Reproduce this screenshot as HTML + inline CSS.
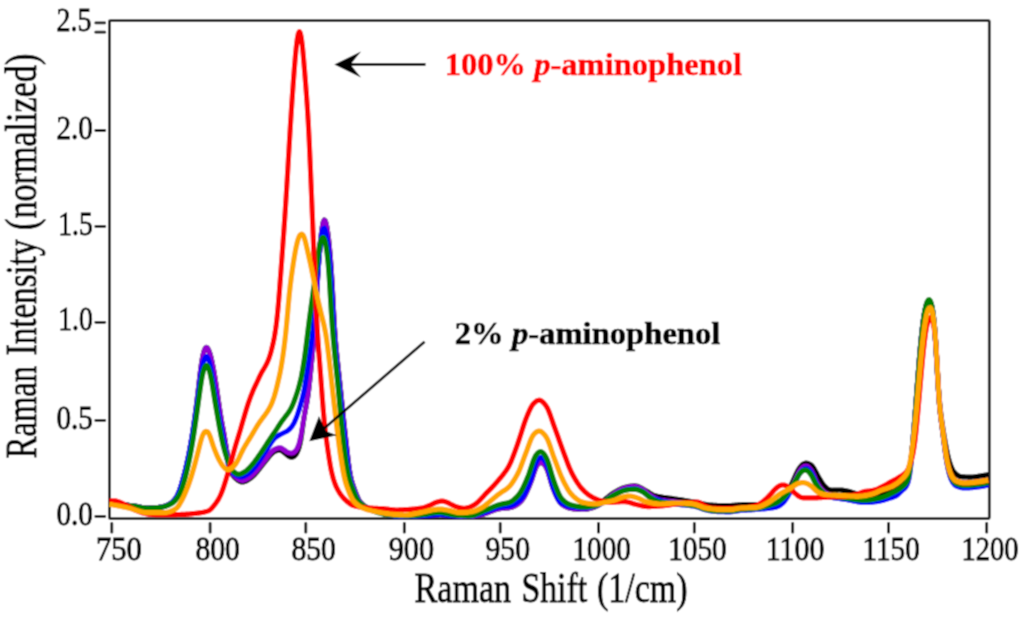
<!DOCTYPE html>
<html><head><meta charset="utf-8"><title>Raman spectra</title>
<style>
html,body{margin:0;padding:0;background:#fff;}
body{width:1024px;height:617px;overflow:hidden;}
svg{display:block;}
text{font-family:"Liberation Serif","Times New Roman",serif;fill:#000;stroke:#000;stroke-width:0.9px;}

.ax line{stroke:#0a0a0a;stroke-width:2.8;stroke-linecap:round;}
.cv path{fill:none;stroke-linejoin:round;stroke-linecap:butt;}
.lab{font-weight:bold;font-size:32.6px;stroke-width:0.6px;}
</style></head><body>
<svg width="1024" height="617" viewBox="0 0 1024 617">
<defs><filter id="soft" x="0" y="0" width="1024" height="617" filterUnits="userSpaceOnUse"><feConvolveMatrix order="3" kernelMatrix="0.0400 0.1200 0.0400 0.1200 0.3600 0.1200 0.0400 0.1200 0.0400" edgeMode="duplicate" preserveAlpha="true"/></filter></defs>
<rect width="1024" height="617" fill="#fff"/>
<g filter="url(#soft)">
<rect width="1024" height="617" fill="#fff"/>
<rect x="109.4" y="20.6" width="879.9" height="498.0" fill="none" stroke="#1a1a1a" stroke-width="2.8" rx="1"/>
<g class="cv">
<path d="M109.3,503.5 110.3,503.6 111.3,503.7 112.3,503.8 113.3,503.9 114.3,504.0 115.3,504.0 116.3,504.1 117.3,504.2 118.3,504.3 119.3,504.4 120.3,504.5 121.3,504.6 122.3,504.7 123.3,504.8 124.3,504.9 125.3,505.0 126.3,505.1 127.3,505.2 128.3,505.3 129.3,505.5 130.3,505.6 131.3,505.7 132.3,505.8 133.3,505.9 134.3,506.1 135.3,506.2 136.3,506.4 137.3,506.6 138.3,506.8 139.3,507.0 140.3,507.2 141.3,507.4 142.3,507.5 143.3,507.7 144.3,507.8 145.3,507.9 146.3,508.0 147.3,508.0 148.3,508.0 149.3,508.0 150.3,507.9 151.3,507.9 152.3,507.9 153.3,507.8 154.3,507.8 155.3,507.7 156.3,507.6 157.3,507.5 158.3,507.5 159.3,507.3 160.3,507.2 161.3,507.0 162.3,506.8 163.3,506.5 164.3,506.2 165.3,505.9 166.3,505.5 167.3,505.1 168.3,504.6 169.3,504.1 170.3,503.5 171.3,502.9 172.3,502.1 173.3,501.1 174.3,500.0 175.3,498.7 176.3,497.2 177.3,495.5 178.3,493.5 179.3,491.1 180.3,488.2 181.3,484.9 182.3,481.5 183.3,477.9 184.3,474.2 185.3,470.3 186.3,466.1 187.3,461.7 188.3,457.0 189.3,451.9 190.3,446.6 191.3,440.9 192.3,434.9 193.3,428.5 194.3,421.7 195.3,414.4 196.3,406.6 197.3,398.4 198.3,389.8 199.3,381.0 200.3,372.5 201.3,365.0 202.3,358.8 203.3,354.0 204.3,350.5 205.3,348.3 206.3,347.4 207.3,347.9 208.3,349.4 209.3,351.8 210.3,354.9 211.3,358.7 212.3,363.2 213.3,368.4 214.3,374.0 215.3,380.2 216.3,386.7 217.3,393.4 218.3,400.3 219.3,407.2 220.3,413.7 221.3,419.8 222.3,425.3 223.3,430.6 224.3,436.1 225.3,442.2 226.3,448.5 227.3,454.9 228.3,460.8 229.3,465.9 230.3,469.7 231.3,472.3 232.3,474.3 233.3,475.8 234.3,477.1 235.3,478.1 236.3,479.0 237.3,479.8 238.3,480.5 239.3,481.1 240.3,481.6 241.3,481.9 242.3,482.0 243.3,481.9 244.3,481.7 245.3,481.3 246.3,480.8 247.3,480.3 248.3,479.7 249.3,479.1 250.3,478.4 251.3,477.6 252.3,476.8 253.3,475.9 254.3,474.9 255.3,473.8 256.3,472.7 257.3,471.5 258.3,470.2 259.3,469.0 260.3,467.7 261.3,466.4 262.3,465.1 263.3,463.9 264.3,462.7 265.3,461.4 266.3,460.2 267.3,458.9 268.3,457.6 269.3,456.4 270.3,455.2 271.3,454.2 272.3,453.2 273.3,452.4 274.3,451.7 275.3,451.2 276.3,450.7 277.3,450.4 278.3,450.2 279.3,450.1 280.3,450.3 281.3,450.6 282.3,451.2 283.3,451.9 284.3,452.7 285.3,453.5 286.3,454.4 287.3,455.2 288.3,456.0 289.3,456.6 290.3,457.0 291.3,457.2 292.3,457.2 293.3,456.8 294.3,456.2 295.3,455.2 296.3,453.9 297.3,452.1 298.3,449.7 299.3,446.6 300.3,442.5 301.3,436.9 302.3,430.0 303.3,422.7 304.3,416.1 305.3,410.4 306.3,405.2 307.3,399.6 308.3,392.8 309.3,384.5 310.3,375.0 311.3,364.7 312.3,354.4 313.3,343.6 314.3,331.3 315.3,316.4 316.3,299.7 317.3,282.9 318.3,267.5 319.3,254.2 320.3,243.1 321.3,234.0 322.3,226.8 323.3,221.9 324.3,220.0 325.3,220.9 326.3,224.3 327.3,229.8 328.3,237.1 329.3,246.2 330.3,257.3 331.3,270.9 332.3,287.6 333.3,306.6 334.3,324.9 335.3,339.4 336.3,350.6 337.3,360.1 338.3,369.2 339.3,378.4 340.3,387.8 341.3,397.4 342.3,407.2 343.3,416.8 344.3,426.2 345.3,435.3 346.3,444.2 347.3,453.1 348.3,461.7 349.3,469.2 350.3,475.2 351.3,479.6 352.3,483.1 353.3,486.0 354.3,488.8 355.3,491.6 356.3,494.2 357.3,496.7 358.3,498.9 359.3,500.7 360.3,502.1 361.3,503.3 362.3,504.2 363.3,505.1 364.3,505.8 365.3,506.5 366.3,507.1 367.3,507.6 368.3,508.1 369.3,508.6 370.3,509.1 371.3,509.5 372.3,509.9 373.3,510.3 374.3,510.7 375.3,511.0 376.3,511.4 377.3,511.7 378.3,512.0 379.3,512.3 380.3,512.6 381.3,512.9 382.3,513.2 383.3,513.5 384.3,513.8 385.3,514.1 386.3,514.3 387.3,514.6 388.3,514.9 389.3,515.1 390.3,515.3 391.3,515.5 392.3,515.6 393.3,515.7 394.3,515.8 395.3,515.8 396.3,515.8 397.3,515.8 398.3,515.8 399.3,515.8 400.3,515.8 401.3,515.8 402.3,515.8 403.3,515.8 404.3,515.8 405.3,515.8 406.3,515.8 407.3,515.8 408.3,515.8 409.3,515.8 410.3,515.8 411.3,515.8 412.3,515.8 413.3,515.8 414.3,515.8 415.3,515.8 416.3,515.8 417.3,515.8 418.3,515.8 419.3,515.8 420.3,515.8 421.3,515.8 422.3,515.7 423.3,515.7 424.3,515.6 425.3,515.5 426.3,515.5 427.3,515.4 428.3,515.3 429.3,515.2 430.3,515.1 431.3,515.1 432.3,515.0 433.3,514.9 434.3,514.8 435.3,514.7 436.3,514.7 437.3,514.6 438.3,514.6 439.3,514.5 440.3,514.5 441.3,514.5 442.3,514.6 443.3,514.7 444.3,514.7 445.3,514.8 446.3,514.9 447.3,515.0 448.3,515.2 449.3,515.3 450.3,515.4 451.3,515.6 452.3,515.7 453.3,515.8 454.3,515.9 455.3,516.0 456.3,516.1 457.3,516.1 458.3,516.2 459.3,516.2 460.3,516.3 461.3,516.3 462.3,516.3 463.3,516.4 464.3,516.4 465.3,516.4 466.3,516.5 467.3,516.5 468.3,516.5 469.3,516.5 470.3,516.5 471.3,516.4 472.3,516.4 473.3,516.2 474.3,516.1 475.3,515.9 476.3,515.7 477.3,515.5 478.3,515.3 479.3,515.1 480.3,514.8 481.3,514.6 482.3,514.3 483.3,514.1 484.3,513.8 485.3,513.5 486.3,513.2 487.3,512.8 488.3,512.5 489.3,512.1 490.3,511.7 491.3,511.3 492.3,510.9 493.3,510.5 494.3,510.1 495.3,509.8 496.3,509.5 497.3,509.2 498.3,509.0 499.3,508.8 500.3,508.6 501.3,508.5 502.3,508.4 503.3,508.3 504.3,508.2 505.3,508.1 506.3,508.0 507.3,508.0 508.3,507.8 509.3,507.7 510.3,507.5 511.3,507.3 512.3,507.0 513.3,506.6 514.3,506.1 515.3,505.6 516.3,505.0 517.3,504.4 518.3,503.6 519.3,502.8 520.3,501.9 521.3,500.9 522.3,499.7 523.3,498.3 524.3,496.6 525.3,494.7 526.3,492.7 527.3,490.5 528.3,488.2 529.3,485.9 530.3,483.4 531.3,480.8 532.3,477.9 533.3,474.8 534.3,471.7 535.3,469.0 536.3,466.7 537.3,464.9 538.3,463.7 539.3,462.9 540.3,462.4 541.3,462.4 542.3,462.9 543.3,463.6 544.3,464.7 545.3,466.0 546.3,467.7 547.3,469.9 548.3,472.7 549.3,475.9 550.3,479.4 551.3,482.8 552.3,486.0 553.3,488.9 554.3,491.4 555.3,493.7 556.3,495.9 557.3,498.0 558.3,499.8 559.3,501.4 560.3,502.7 561.3,503.8 562.3,504.6 563.3,505.2 564.3,505.8 565.3,506.4 566.3,506.9 567.3,507.3 568.3,507.7 569.3,508.0 570.3,508.3 571.3,508.5 572.3,508.6 573.3,508.8 574.3,508.9 575.3,508.9 576.3,509.0 577.3,509.1 578.3,509.1 579.3,509.2 580.3,509.2 581.3,509.3 582.3,509.3 583.3,509.3 584.3,509.3 585.3,509.2 586.3,509.1 587.3,508.9 588.3,508.8 589.3,508.6 590.3,508.3 591.3,508.0 592.3,507.7 593.3,507.4 594.3,507.0 595.3,506.7 596.3,506.2 597.3,505.7 598.3,505.1 599.3,504.4 600.3,503.5 601.3,502.6 602.3,501.6 603.3,500.8 604.3,500.0 605.3,499.1 606.3,498.3 607.3,497.5 608.3,496.7 609.3,495.9 610.3,495.2 611.3,494.4 612.3,493.7 613.3,493.1 614.3,492.4 615.3,491.8 616.3,491.3 617.3,490.7 618.3,490.2 619.3,489.6 620.3,489.1 621.3,488.6 622.3,488.2 623.3,487.8 624.3,487.5 625.3,487.2 626.3,487.0 627.3,486.8 628.3,486.6 629.3,486.4 630.3,486.2 631.3,486.1 632.3,486.0 633.3,485.9 634.3,485.9 635.3,485.9 636.3,486.0 637.3,486.2 638.3,486.5 639.3,487.0 640.3,487.5 641.3,488.0 642.3,488.6 643.3,489.2 644.3,489.8 645.3,490.3 646.3,490.9 647.3,491.5 648.3,492.1 649.3,492.8 650.3,493.4 651.3,494.0 652.3,494.6 653.3,495.1 654.3,495.5 655.3,495.9 656.3,496.1 657.3,496.4 658.3,496.6 659.3,496.8 660.3,496.9 661.3,497.1 662.3,497.2 663.3,497.4 664.3,497.5 665.3,497.6 666.3,497.8 667.3,497.9 668.3,498.0 669.3,498.2 670.3,498.3 671.3,498.4 672.3,498.6 673.3,498.7 674.3,498.9 675.3,499.0 676.3,499.2 677.3,499.3 678.3,499.5 679.3,499.6 680.3,499.8 681.3,499.9 682.3,500.1 683.3,500.2 684.3,500.4 685.3,500.5 686.3,500.7 687.3,500.9 688.3,501.0 689.3,501.2 690.3,501.4 691.3,501.5 692.3,501.7 693.3,501.9 694.3,502.0 695.3,502.2 696.3,502.4 697.3,502.6 698.3,502.8 699.3,503.0 700.3,503.2 701.3,503.4 702.3,503.7 703.3,503.9 704.3,504.2 705.3,504.4 706.3,504.6 707.3,504.8 708.3,504.9 709.3,505.0 710.3,505.1 711.3,505.2 712.3,505.2 713.3,505.3 714.3,505.3 715.3,505.4 716.3,505.4 717.3,505.5 718.3,505.5 719.3,505.5 720.3,505.5 721.3,505.5 722.3,505.5 723.3,505.5 724.3,505.5 725.3,505.5 726.3,505.5 727.3,505.5 728.3,505.5 729.3,505.5 730.3,505.5 731.3,505.5 732.3,505.4 733.3,505.4 734.3,505.3 735.3,505.2 736.3,505.1 737.3,505.0 738.3,504.9 739.3,504.8 740.3,504.8 741.3,504.8 742.3,504.7 743.3,504.7 744.3,504.7 745.3,504.6 746.3,504.6 747.3,504.6 748.3,504.6 749.3,504.6 750.3,504.5 751.3,504.5 752.3,504.5 753.3,504.5 754.3,504.5 755.3,504.5 756.3,504.5 757.3,504.5 758.3,504.6 759.3,504.6 760.3,504.7 761.3,504.7 762.3,504.8 763.3,504.8 764.3,504.9 765.3,504.9 766.3,505.0 767.3,505.0 768.3,505.0 769.3,505.0 770.3,505.0 771.3,504.9 772.3,504.9 773.3,504.8 774.3,504.7 775.3,504.7 776.3,504.5 777.3,504.3 778.3,503.9 779.3,503.3 780.3,502.4 781.3,501.4 782.3,500.2 783.3,499.0 784.3,497.6 785.3,496.2 786.3,494.7 787.3,492.9 788.3,491.0 789.3,489.0 790.3,486.8 791.3,484.7 792.3,482.5 793.3,480.3 794.3,478.1 795.3,475.9 796.3,473.7 797.3,471.7 798.3,469.8 799.3,468.2 800.3,466.8 801.3,465.6 802.3,464.7 803.3,464.0 804.3,463.5 805.3,463.2 806.3,463.2 807.3,463.3 808.3,463.6 809.3,464.0 810.3,464.5 811.3,465.2 812.3,466.2 813.3,467.5 814.3,469.1 815.3,470.9 816.3,472.8 817.3,474.7 818.3,476.5 819.3,478.2 820.3,480.0 821.3,481.6 822.3,483.2 823.3,484.6 824.3,485.8 825.3,486.8 826.3,487.8 827.3,488.6 828.3,489.3 829.3,489.8 830.3,490.1 831.3,490.2 832.3,490.3 833.3,490.2 834.3,490.2 835.3,490.1 836.3,490.1 837.3,490.1 838.3,490.0 839.3,490.0 840.3,490.0 841.3,490.1 842.3,490.2 843.3,490.3 844.3,490.5 845.3,490.7 846.3,490.9 847.3,491.1 848.3,491.3 849.3,491.6 850.3,491.9 851.3,492.1 852.3,492.5 853.3,492.8 854.3,493.1 855.3,493.5 856.3,493.8 857.3,494.1 858.3,494.4 859.3,494.7 860.3,494.9 861.3,495.2 862.3,495.5 863.3,495.7 864.3,495.8 865.3,495.9 866.3,496.0 867.3,496.0 868.3,495.9 869.3,495.9 870.3,495.8 871.3,495.7 872.3,495.6 873.3,495.5 874.3,495.4 875.3,495.2 876.3,495.1 877.3,494.9 878.3,494.8 879.3,494.6 880.3,494.4 881.3,494.2 882.3,493.9 883.3,493.7 884.3,493.3 885.3,492.9 886.3,492.6 887.3,492.1 888.3,491.7 889.3,491.2 890.3,490.8 891.3,490.3 892.3,489.9 893.3,489.4 894.3,488.9 895.3,488.4 896.3,487.8 897.3,487.3 898.3,486.6 899.3,486.0 900.3,485.3 901.3,484.5 902.3,483.7 903.3,482.9 904.3,481.9 905.3,480.9 906.3,479.5 907.3,477.7 908.3,475.1 909.3,470.9 910.3,464.9 911.3,457.2 912.3,448.0 913.3,437.2 914.3,425.2 915.3,412.4 916.3,399.3 917.3,386.0 918.3,373.0 919.3,360.4 920.3,348.6 921.3,338.0 922.3,328.7 923.3,320.7 924.3,314.2 925.3,309.0 926.3,305.2 927.3,302.7 928.3,301.3 929.3,301.0 930.3,302.1 931.3,304.6 932.3,309.0 933.3,315.5 934.3,324.8 935.3,337.1 936.3,352.4 937.3,369.6 938.3,386.1 939.3,399.6 940.3,409.7 941.3,417.7 942.3,424.6 943.3,431.1 944.3,437.2 945.3,443.0 946.3,448.3 947.3,453.3 948.3,457.6 949.3,461.3 950.3,464.4 951.3,467.0 952.3,469.2 953.3,471.0 954.3,472.3 955.3,473.4 956.3,474.3 957.3,475.1 958.3,475.7 959.3,476.2 960.3,476.5 961.3,476.7 962.3,476.8 963.3,476.9 964.3,476.9 965.3,477.0 966.3,477.0 967.3,477.0 968.3,477.1 969.3,477.1 970.3,477.1 971.3,477.1 972.3,477.0 973.3,477.0 974.3,476.9 975.3,476.8 976.3,476.6 977.3,476.5 978.3,476.3 979.3,476.1 980.3,476.0 981.3,475.8 982.3,475.7 983.3,475.5 984.3,475.3 985.3,475.2 986.3,475.0 987.3,474.8 988.3,474.7" stroke="#000000" stroke-width="5.2"/>
<path d="M109.3,503.5 110.3,503.6 111.3,503.7 112.3,503.8 113.3,503.9 114.3,504.0 115.3,504.0 116.3,504.1 117.3,504.2 118.3,504.3 119.3,504.4 120.3,504.5 121.3,504.6 122.3,504.7 123.3,504.8 124.3,504.9 125.3,505.0 126.3,505.1 127.3,505.2 128.3,505.3 129.3,505.5 130.3,505.6 131.3,505.7 132.3,505.8 133.3,505.9 134.3,506.1 135.3,506.2 136.3,506.4 137.3,506.6 138.3,506.8 139.3,507.0 140.3,507.2 141.3,507.4 142.3,507.5 143.3,507.7 144.3,507.8 145.3,507.9 146.3,508.0 147.3,508.0 148.3,508.0 149.3,508.0 150.3,507.9 151.3,507.9 152.3,507.9 153.3,507.8 154.3,507.8 155.3,507.7 156.3,507.6 157.3,507.5 158.3,507.5 159.3,507.3 160.3,507.2 161.3,507.0 162.3,506.8 163.3,506.5 164.3,506.2 165.3,505.9 166.3,505.5 167.3,505.1 168.3,504.6 169.3,504.1 170.3,503.5 171.3,502.9 172.3,502.1 173.3,501.1 174.3,500.0 175.3,498.7 176.3,497.2 177.3,495.5 178.3,493.5 179.3,491.1 180.3,488.2 181.3,484.9 182.3,481.5 183.3,477.9 184.3,474.2 185.3,470.3 186.3,466.1 187.3,461.7 188.3,457.0 189.3,451.9 190.3,446.6 191.3,440.9 192.3,434.9 193.3,428.5 194.3,421.7 195.3,414.4 196.3,406.6 197.3,398.4 198.3,389.8 199.3,381.0 200.3,372.5 201.3,365.0 202.3,358.8 203.3,354.0 204.3,350.5 205.3,348.3 206.3,347.4 207.3,347.9 208.3,349.4 209.3,351.8 210.3,354.9 211.3,358.7 212.3,363.2 213.3,368.4 214.3,374.0 215.3,380.2 216.3,386.7 217.3,393.4 218.3,400.3 219.3,407.2 220.3,413.7 221.3,419.8 222.3,425.3 223.3,430.6 224.3,436.2 225.3,442.2 226.3,448.5 227.3,454.7 228.3,460.3 229.3,465.0 230.3,468.5 231.3,471.1 232.3,472.9 233.3,474.4 234.3,475.7 235.3,476.7 236.3,477.5 237.3,478.3 238.3,478.9 239.3,479.5 240.3,479.9 241.3,480.2 242.3,480.3 243.3,480.3 244.3,480.0 245.3,479.6 246.3,479.1 247.3,478.6 248.3,478.0 249.3,477.3 250.3,476.6 251.3,475.8 252.3,474.9 253.3,474.0 254.3,473.0 255.3,471.9 256.3,470.8 257.3,469.6 258.3,468.4 259.3,467.1 260.3,465.9 261.3,464.6 262.3,463.3 263.3,462.1 264.3,460.9 265.3,459.6 266.3,458.3 267.3,456.9 268.3,455.6 269.3,454.3 270.3,453.1 271.3,452.0 272.3,451.1 273.3,450.2 274.3,449.6 275.3,449.0 276.3,448.5 277.3,448.2 278.3,447.9 279.3,447.8 280.3,447.8 281.3,448.1 282.3,448.6 283.3,449.3 284.3,450.0 285.3,450.7 286.3,451.4 287.3,452.0 288.3,452.5 289.3,452.8 290.3,453.0 291.3,453.1 292.3,453.0 293.3,452.6 294.3,451.9 295.3,451.0 296.3,449.8 297.3,448.1 298.3,445.8 299.3,442.7 300.3,438.7 301.3,433.7 302.3,427.9 303.3,421.8 304.3,416.1 305.3,410.7 306.3,405.5 307.3,399.7 308.3,392.9 309.3,384.6 310.3,375.0 311.3,364.7 312.3,354.4 313.3,343.6 314.3,331.3 315.3,316.4 316.3,299.7 317.3,282.9 318.3,267.5 319.3,254.2 320.3,243.1 321.3,234.0 322.3,226.8 323.3,221.9 324.3,220.0 325.3,220.9 326.3,224.3 327.3,229.8 328.3,237.1 329.3,246.2 330.3,257.3 331.3,270.9 332.3,287.6 333.3,306.6 334.3,324.9 335.3,339.4 336.3,350.6 337.3,360.1 338.3,369.2 339.3,378.4 340.3,387.8 341.3,397.4 342.3,407.2 343.3,416.8 344.3,426.2 345.3,435.3 346.3,444.2 347.3,453.1 348.3,461.7 349.3,469.2 350.3,475.2 351.3,479.6 352.3,483.1 353.3,486.0 354.3,488.8 355.3,491.6 356.3,494.2 357.3,496.7 358.3,498.9 359.3,500.7 360.3,502.1 361.3,503.3 362.3,504.2 363.3,505.1 364.3,505.8 365.3,506.5 366.3,507.1 367.3,507.6 368.3,508.1 369.3,508.6 370.3,509.1 371.3,509.5 372.3,509.9 373.3,510.3 374.3,510.7 375.3,511.0 376.3,511.4 377.3,511.7 378.3,512.0 379.3,512.3 380.3,512.6 381.3,512.9 382.3,513.2 383.3,513.5 384.3,513.8 385.3,514.1 386.3,514.3 387.3,514.6 388.3,514.9 389.3,515.1 390.3,515.3 391.3,515.5 392.3,515.6 393.3,515.7 394.3,515.8 395.3,515.8 396.3,515.8 397.3,515.8 398.3,515.8 399.3,515.8 400.3,515.8 401.3,515.8 402.3,515.8 403.3,515.8 404.3,515.8 405.3,515.8 406.3,515.8 407.3,515.8 408.3,515.8 409.3,515.8 410.3,515.8 411.3,515.8 412.3,515.8 413.3,515.8 414.3,515.8 415.3,515.8 416.3,515.8 417.3,515.8 418.3,515.8 419.3,515.8 420.3,515.8 421.3,515.8 422.3,515.7 423.3,515.7 424.3,515.6 425.3,515.5 426.3,515.5 427.3,515.4 428.3,515.3 429.3,515.2 430.3,515.1 431.3,515.1 432.3,515.0 433.3,514.9 434.3,514.8 435.3,514.7 436.3,514.7 437.3,514.6 438.3,514.6 439.3,514.5 440.3,514.5 441.3,514.5 442.3,514.6 443.3,514.7 444.3,514.7 445.3,514.8 446.3,514.9 447.3,515.0 448.3,515.2 449.3,515.3 450.3,515.4 451.3,515.6 452.3,515.7 453.3,515.8 454.3,515.9 455.3,516.0 456.3,516.1 457.3,516.1 458.3,516.2 459.3,516.2 460.3,516.3 461.3,516.3 462.3,516.3 463.3,516.4 464.3,516.4 465.3,516.4 466.3,516.5 467.3,516.5 468.3,516.5 469.3,516.5 470.3,516.5 471.3,516.4 472.3,516.4 473.3,516.2 474.3,516.1 475.3,515.9 476.3,515.7 477.3,515.5 478.3,515.3 479.3,515.1 480.3,514.8 481.3,514.6 482.3,514.3 483.3,514.1 484.3,513.8 485.3,513.5 486.3,513.2 487.3,512.8 488.3,512.5 489.3,512.1 490.3,511.7 491.3,511.3 492.3,510.9 493.3,510.5 494.3,510.1 495.3,509.8 496.3,509.5 497.3,509.2 498.3,509.0 499.3,508.8 500.3,508.6 501.3,508.5 502.3,508.4 503.3,508.3 504.3,508.2 505.3,508.1 506.3,508.0 507.3,508.0 508.3,507.8 509.3,507.7 510.3,507.5 511.3,507.3 512.3,507.0 513.3,506.6 514.3,506.1 515.3,505.6 516.3,505.0 517.3,504.4 518.3,503.6 519.3,502.8 520.3,501.9 521.3,500.9 522.3,499.7 523.3,498.3 524.3,496.6 525.3,494.7 526.3,492.7 527.3,490.5 528.3,488.2 529.3,485.9 530.3,483.4 531.3,480.8 532.3,477.9 533.3,474.8 534.3,471.7 535.3,469.0 536.3,466.7 537.3,464.9 538.3,463.7 539.3,462.9 540.3,462.4 541.3,462.4 542.3,462.9 543.3,463.6 544.3,464.7 545.3,466.0 546.3,467.7 547.3,469.9 548.3,472.7 549.3,475.9 550.3,479.4 551.3,482.8 552.3,486.0 553.3,488.9 554.3,491.4 555.3,493.7 556.3,495.9 557.3,498.0 558.3,499.8 559.3,501.4 560.3,502.7 561.3,503.8 562.3,504.6 563.3,505.2 564.3,505.8 565.3,506.4 566.3,506.9 567.3,507.3 568.3,507.7 569.3,508.0 570.3,508.3 571.3,508.5 572.3,508.6 573.3,508.8 574.3,508.9 575.3,508.9 576.3,509.0 577.3,509.1 578.3,509.1 579.3,509.2 580.3,509.2 581.3,509.3 582.3,509.3 583.3,509.3 584.3,509.3 585.3,509.2 586.3,509.1 587.3,508.9 588.3,508.7 589.3,508.5 590.3,508.3 591.3,508.0 592.3,507.7 593.3,507.3 594.3,507.0 595.3,506.6 596.3,506.2 597.3,505.8 598.3,505.3 599.3,504.7 600.3,504.0 601.3,503.3 602.3,502.5 603.3,501.8 604.3,501.0 605.3,500.3 606.3,499.5 607.3,498.7 608.3,497.9 609.3,497.1 610.3,496.3 611.3,495.6 612.3,494.8 613.3,494.1 614.3,493.5 615.3,492.8 616.3,492.2 617.3,491.6 618.3,491.0 619.3,490.4 620.3,489.9 621.3,489.3 622.3,488.8 623.3,488.4 624.3,488.0 625.3,487.7 626.3,487.5 627.3,487.2 628.3,487.0 629.3,486.8 630.3,486.7 631.3,486.5 632.3,486.4 633.3,486.4 634.3,486.4 635.3,486.4 636.3,486.6 637.3,486.9 638.3,487.3 639.3,487.7 640.3,488.2 641.3,488.7 642.3,489.2 643.3,489.8 644.3,490.5 645.3,491.3 646.3,492.1 647.3,493.0 648.3,493.8 649.3,494.5 650.3,495.2 651.3,495.8 652.3,496.4 653.3,497.0 654.3,497.6 655.3,498.1 656.3,498.6 657.3,499.1 658.3,499.5 659.3,499.8 660.3,500.0 661.3,500.2 662.3,500.4 663.3,500.6 664.3,500.7 665.3,500.8 666.3,501.0 667.3,501.1 668.3,501.2 669.3,501.3 670.3,501.4 671.3,501.5 672.3,501.6 673.3,501.7 674.3,501.8 675.3,501.9 676.3,502.0 677.3,502.2 678.3,502.3 679.3,502.4 680.3,502.5 681.3,502.7 682.3,502.8 683.3,502.9 684.3,503.0 685.3,503.2 686.3,503.3 687.3,503.4 688.3,503.6 689.3,503.7 690.3,503.9 691.3,504.1 692.3,504.2 693.3,504.4 694.3,504.6 695.3,504.9 696.3,505.1 697.3,505.4 698.3,505.8 699.3,506.2 700.3,506.7 701.3,507.1 702.3,507.6 703.3,508.0 704.3,508.4 705.3,508.8 706.3,509.0 707.3,509.3 708.3,509.5 709.3,509.7 710.3,509.9 711.3,510.1 712.3,510.3 713.3,510.5 714.3,510.6 715.3,510.7 716.3,510.8 717.3,510.9 718.3,511.0 719.3,511.1 720.3,511.1 721.3,511.2 722.3,511.3 723.3,511.3 724.3,511.4 725.3,511.4 726.3,511.4 727.3,511.5 728.3,511.5 729.3,511.5 730.3,511.5 731.3,511.4 732.3,511.3 733.3,511.2 734.3,511.0 735.3,510.8 736.3,510.6 737.3,510.4 738.3,510.2 739.3,510.1 740.3,510.0 741.3,509.9 742.3,509.8 743.3,509.7 744.3,509.7 745.3,509.6 746.3,509.6 747.3,509.5 748.3,509.4 749.3,509.4 750.3,509.3 751.3,509.3 752.3,509.2 753.3,509.1 754.3,509.1 755.3,509.0 756.3,508.9 757.3,508.8 758.3,508.7 759.3,508.6 760.3,508.5 761.3,508.4 762.3,508.3 763.3,508.2 764.3,508.1 765.3,508.0 766.3,507.9 767.3,507.7 768.3,507.6 769.3,507.4 770.3,507.2 771.3,507.1 772.3,506.9 773.3,506.6 774.3,506.4 775.3,506.1 776.3,505.8 777.3,505.4 778.3,504.8 779.3,504.2 780.3,503.4 781.3,502.6 782.3,501.6 783.3,500.6 784.3,499.5 785.3,498.2 786.3,496.8 787.3,495.3 788.3,493.6 789.3,491.8 790.3,489.9 791.3,487.9 792.3,485.8 793.3,483.8 794.3,481.8 795.3,479.7 796.3,477.6 797.3,475.5 798.3,473.4 799.3,471.6 800.3,470.1 801.3,468.9 802.3,467.9 803.3,467.1 804.3,466.5 805.3,466.1 806.3,466.1 807.3,466.5 808.3,467.2 809.3,468.1 810.3,469.3 811.3,470.7 812.3,472.5 813.3,474.6 814.3,476.9 815.3,479.3 816.3,481.4 817.3,483.3 818.3,485.0 819.3,486.5 820.3,487.9 821.3,489.2 822.3,490.2 823.3,491.2 824.3,492.0 825.3,492.7 826.3,493.3 827.3,493.9 828.3,494.4 829.3,494.7 830.3,495.0 831.3,495.3 832.3,495.4 833.3,495.6 834.3,495.8 835.3,495.9 836.3,496.0 837.3,496.1 838.3,496.2 839.3,496.3 840.3,496.4 841.3,496.5 842.3,496.6 843.3,496.8 844.3,496.9 845.3,497.1 846.3,497.2 847.3,497.4 848.3,497.7 849.3,497.9 850.3,498.2 851.3,498.4 852.3,498.7 853.3,498.9 854.3,499.2 855.3,499.5 856.3,499.7 857.3,500.0 858.3,500.2 859.3,500.4 860.3,500.6 861.3,500.7 862.3,500.8 863.3,500.9 864.3,501.0 865.3,501.0 866.3,501.0 867.3,500.9 868.3,500.9 869.3,500.8 870.3,500.7 871.3,500.5 872.3,500.4 873.3,500.2 874.3,500.1 875.3,499.9 876.3,499.7 877.3,499.5 878.3,499.3 879.3,499.1 880.3,498.9 881.3,498.7 882.3,498.4 883.3,498.1 884.3,497.8 885.3,497.4 886.3,497.0 887.3,496.6 888.3,496.2 889.3,495.8 890.3,495.3 891.3,494.8 892.3,494.3 893.3,493.8 894.3,493.3 895.3,492.7 896.3,492.2 897.3,491.5 898.3,490.9 899.3,490.1 900.3,489.4 901.3,488.6 902.3,487.7 903.3,486.9 904.3,485.9 905.3,484.9 906.3,483.5 907.3,481.7 908.3,478.8 909.3,474.0 910.3,467.0 911.3,458.2 912.3,448.2 913.3,437.1 914.3,425.0 915.3,412.3 916.3,399.2 917.3,386.0 918.3,373.0 919.3,360.4 920.3,348.6 921.3,338.0 922.3,328.7 923.3,320.7 924.3,314.2 925.3,309.0 926.3,305.2 927.3,302.7 928.3,301.3 929.3,301.0 930.3,302.1 931.3,304.6 932.3,308.9 933.3,315.5 934.3,324.8 935.3,337.2 936.3,353.0 937.3,371.0 938.3,388.4 939.3,402.4 940.3,412.9 941.3,421.1 942.3,428.7 943.3,436.3 944.3,444.2 945.3,451.8 946.3,458.6 947.3,464.3 948.3,469.1 949.3,473.1 950.3,476.3 951.3,478.7 952.3,480.7 953.3,482.2 954.3,483.5 955.3,484.4 956.3,485.0 957.3,485.5 958.3,485.8 959.3,486.1 960.3,486.4 961.3,486.6 962.3,486.8 963.3,486.9 964.3,487.0 965.3,487.0 966.3,487.0 967.3,486.9 968.3,486.9 969.3,486.8 970.3,486.7 971.3,486.7 972.3,486.6 973.3,486.5 974.3,486.3 975.3,486.2 976.3,486.1 977.3,486.0 978.3,485.9 979.3,485.7 980.3,485.6 981.3,485.4 982.3,485.3 983.3,485.1 984.3,484.9 985.3,484.7 986.3,484.5 987.3,484.3 988.3,484.1" stroke="#9400d0" stroke-width="5.2"/>
<path d="M109.3,503.5 110.3,503.6 111.3,503.7 112.3,503.8 113.3,503.9 114.3,504.0 115.3,504.0 116.3,504.1 117.3,504.2 118.3,504.3 119.3,504.4 120.3,504.5 121.3,504.6 122.3,504.7 123.3,504.8 124.3,504.9 125.3,505.0 126.3,505.1 127.3,505.2 128.3,505.3 129.3,505.5 130.3,505.6 131.3,505.7 132.3,505.8 133.3,505.9 134.3,506.1 135.3,506.2 136.3,506.4 137.3,506.6 138.3,506.8 139.3,507.0 140.3,507.2 141.3,507.4 142.3,507.5 143.3,507.7 144.3,507.8 145.3,507.9 146.3,508.0 147.3,508.0 148.3,508.0 149.3,508.0 150.3,507.9 151.3,507.9 152.3,507.9 153.3,507.8 154.3,507.8 155.3,507.7 156.3,507.6 157.3,507.5 158.3,507.5 159.3,507.3 160.3,507.2 161.3,507.0 162.3,506.8 163.3,506.5 164.3,506.2 165.3,505.9 166.3,505.5 167.3,505.1 168.3,504.6 169.3,504.1 170.3,503.5 171.3,502.9 172.3,502.1 173.3,501.1 174.3,500.0 175.3,498.7 176.3,497.2 177.3,495.5 178.3,493.5 179.3,491.1 180.3,488.2 181.3,484.9 182.3,481.5 183.3,477.9 184.3,474.2 185.3,470.3 186.3,466.1 187.3,461.7 188.3,457.0 189.3,451.9 190.3,446.6 191.3,440.8 192.3,434.8 193.3,428.5 194.3,421.9 195.3,415.1 196.3,408.2 197.3,401.1 198.3,393.8 199.3,386.3 200.3,379.1 201.3,372.4 202.3,366.8 203.3,362.4 204.3,359.3 205.3,357.4 206.3,356.7 207.3,357.2 208.3,358.9 209.3,361.7 210.3,365.6 211.3,370.4 212.3,376.0 213.3,382.1 214.3,388.5 215.3,394.9 216.3,401.0 217.3,406.8 218.3,412.4 219.3,417.8 220.3,422.9 221.3,427.8 222.3,432.9 223.3,438.2 224.3,443.7 225.3,449.3 226.3,454.7 227.3,459.7 228.3,464.0 229.3,467.3 230.3,469.6 231.3,471.2 232.3,472.5 233.3,473.5 234.3,474.3 235.3,475.0 236.3,475.5 237.3,475.9 238.3,476.3 239.3,476.6 240.3,476.8 241.3,476.9 242.3,476.8 243.3,476.5 244.3,476.1 245.3,475.6 246.3,475.0 247.3,474.4 248.3,473.7 249.3,473.0 250.3,472.1 251.3,471.2 252.3,470.2 253.3,469.1 254.3,468.0 255.3,466.7 256.3,465.4 257.3,464.0 258.3,462.6 259.3,461.1 260.3,459.5 261.3,458.0 262.3,456.5 263.3,454.9 264.3,453.4 265.3,451.9 266.3,450.4 267.3,448.9 268.3,447.2 269.3,445.6 270.3,444.0 271.3,442.5 272.3,441.1 273.3,439.8 274.3,438.7 275.3,437.7 276.3,436.9 277.3,436.3 278.3,435.6 279.3,435.1 280.3,434.5 281.3,434.0 282.3,433.5 283.3,433.0 284.3,432.5 285.3,432.0 286.3,431.5 287.3,430.9 288.3,430.2 289.3,429.3 290.3,428.3 291.3,427.1 292.3,425.8 293.3,424.2 294.3,422.4 295.3,420.2 296.3,417.8 297.3,415.1 298.3,412.1 299.3,408.9 300.3,405.5 301.3,401.9 302.3,398.2 303.3,394.2 304.3,389.6 305.3,383.9 306.3,377.4 307.3,370.3 308.3,363.5 309.3,357.0 310.3,350.5 311.3,343.5 312.3,335.8 313.3,326.8 314.3,316.4 315.3,304.7 316.3,292.1 317.3,279.0 318.3,266.2 319.3,254.7 320.3,245.2 321.3,237.6 322.3,232.0 323.3,228.8 324.3,228.2 325.3,230.2 326.3,234.5 327.3,240.5 328.3,247.9 329.3,256.7 330.3,267.7 331.3,281.8 332.3,299.3 333.3,318.0 334.3,334.5 335.3,347.4 336.3,357.9 337.3,367.3 338.3,376.6 339.3,386.0 340.3,395.8 341.3,405.8 342.3,415.6 343.3,424.8 344.3,433.5 345.3,442.0 346.3,450.9 347.3,459.8 348.3,468.0 349.3,474.5 350.3,479.2 351.3,482.8 352.3,485.8 353.3,488.6 354.3,491.3 355.3,493.9 356.3,496.4 357.3,498.6 358.3,500.4 359.3,501.9 360.3,503.1 361.3,504.1 362.3,505.0 363.3,505.8 364.3,506.5 365.3,507.1 366.3,507.7 367.3,508.2 368.3,508.6 369.3,509.1 370.3,509.5 371.3,509.9 372.3,510.2 373.3,510.6 374.3,510.9 375.3,511.2 376.3,511.5 377.3,511.8 378.3,512.0 379.3,512.3 380.3,512.6 381.3,512.9 382.3,513.2 383.3,513.4 384.3,513.7 385.3,514.0 386.3,514.3 387.3,514.6 388.3,514.8 389.3,515.1 390.3,515.3 391.3,515.5 392.3,515.6 393.3,515.7 394.3,515.8 395.3,515.8 396.3,515.8 397.3,515.8 398.3,515.8 399.3,515.8 400.3,515.8 401.3,515.8 402.3,515.8 403.3,515.8 404.3,515.8 405.3,515.8 406.3,515.8 407.3,515.8 408.3,515.8 409.3,515.8 410.3,515.8 411.3,515.8 412.3,515.8 413.3,515.8 414.3,515.8 415.3,515.8 416.3,515.8 417.3,515.8 418.3,515.8 419.3,515.8 420.3,515.8 421.3,515.8 422.3,515.7 423.3,515.7 424.3,515.6 425.3,515.5 426.3,515.5 427.3,515.4 428.3,515.3 429.3,515.2 430.3,515.1 431.3,515.1 432.3,515.0 433.3,514.9 434.3,514.8 435.3,514.7 436.3,514.7 437.3,514.6 438.3,514.6 439.3,514.5 440.3,514.5 441.3,514.5 442.3,514.6 443.3,514.7 444.3,514.7 445.3,514.8 446.3,514.9 447.3,515.0 448.3,515.2 449.3,515.3 450.3,515.5 451.3,515.6 452.3,515.8 453.3,515.9 454.3,515.9 455.3,516.0 456.3,516.0 457.3,516.0 458.3,516.0 459.3,516.0 460.3,516.0 461.3,516.0 462.3,516.0 463.3,516.0 464.3,516.0 465.3,516.0 466.3,516.0 467.3,516.0 468.3,516.0 469.3,516.0 470.3,516.0 471.3,515.9 472.3,515.8 473.3,515.7 474.3,515.5 475.3,515.3 476.3,515.0 477.3,514.7 478.3,514.4 479.3,514.1 480.3,513.8 481.3,513.5 482.3,513.2 483.3,512.9 484.3,512.6 485.3,512.2 486.3,511.9 487.3,511.5 488.3,511.1 489.3,510.7 490.3,510.3 491.3,509.9 492.3,509.5 493.3,509.1 494.3,508.7 495.3,508.4 496.3,508.0 497.3,507.7 498.3,507.5 499.3,507.3 500.3,507.1 501.3,506.9 502.3,506.8 503.3,506.7 504.3,506.6 505.3,506.5 506.3,506.4 507.3,506.3 508.3,506.2 509.3,506.1 510.3,505.9 511.3,505.6 512.3,505.2 513.3,504.8 514.3,504.3 515.3,503.7 516.3,503.1 517.3,502.4 518.3,501.7 519.3,500.9 520.3,500.0 521.3,498.9 522.3,497.7 523.3,496.3 524.3,494.6 525.3,492.7 526.3,490.6 527.3,488.3 528.3,486.0 529.3,483.5 530.3,480.9 531.3,478.1 532.3,475.0 533.3,471.7 534.3,468.3 535.3,465.2 536.3,462.5 537.3,460.5 538.3,459.0 539.3,458.0 540.3,457.5 541.3,457.6 542.3,458.1 543.3,459.0 544.3,460.2 545.3,461.7 546.3,463.7 547.3,466.2 548.3,469.4 549.3,473.1 550.3,476.9 551.3,480.7 552.3,484.2 553.3,487.4 554.3,490.2 555.3,492.9 556.3,495.4 557.3,497.6 558.3,499.5 559.3,501.0 560.3,502.1 561.3,502.9 562.3,503.5 563.3,504.1 564.3,504.7 565.3,505.2 566.3,505.6 567.3,506.0 568.3,506.3 569.3,506.6 570.3,506.8 571.3,507.0 572.3,507.2 573.3,507.3 574.3,507.4 575.3,507.5 576.3,507.6 577.3,507.7 578.3,507.8 579.3,507.9 580.3,507.9 581.3,508.0 582.3,508.0 583.3,508.0 584.3,508.0 585.3,507.9 586.3,507.8 587.3,507.7 588.3,507.6 589.3,507.4 590.3,507.2 591.3,507.0 592.3,506.8 593.3,506.5 594.3,506.2 595.3,506.0 596.3,505.7 597.3,505.4 598.3,505.0 599.3,504.5 600.3,504.0 601.3,503.5 602.3,502.9 603.3,502.3 604.3,501.7 605.3,501.1 606.3,500.4 607.3,499.7 608.3,499.0 609.3,498.3 610.3,497.5 611.3,496.8 612.3,496.2 613.3,495.5 614.3,494.9 615.3,494.3 616.3,493.8 617.3,493.2 618.3,492.7 619.3,492.1 620.3,491.6 621.3,491.1 622.3,490.7 623.3,490.3 624.3,490.0 625.3,489.7 626.3,489.5 627.3,489.3 628.3,489.1 629.3,489.0 630.3,488.8 631.3,488.7 632.3,488.6 633.3,488.6 634.3,488.6 635.3,488.6 636.3,488.8 637.3,489.0 638.3,489.4 639.3,489.8 640.3,490.2 641.3,490.7 642.3,491.2 643.3,491.9 644.3,492.6 645.3,493.4 646.3,494.3 647.3,495.1 648.3,495.9 649.3,496.5 650.3,497.1 651.3,497.5 652.3,497.9 653.3,498.3 654.3,498.7 655.3,499.1 656.3,499.4 657.3,499.7 658.3,500.0 659.3,500.3 660.3,500.6 661.3,500.9 662.3,501.2 663.3,501.4 664.3,501.7 665.3,501.9 666.3,502.1 667.3,502.4 668.3,502.6 669.3,502.8 670.3,503.0 671.3,503.2 672.3,503.3 673.3,503.5 674.3,503.7 675.3,503.9 676.3,504.0 677.3,504.2 678.3,504.3 679.3,504.5 680.3,504.6 681.3,504.7 682.3,504.8 683.3,504.9 684.3,505.0 685.3,505.1 686.3,505.2 687.3,505.3 688.3,505.4 689.3,505.5 690.3,505.6 691.3,505.8 692.3,505.9 693.3,506.0 694.3,506.2 695.3,506.4 696.3,506.6 697.3,506.9 698.3,507.2 699.3,507.6 700.3,508.0 701.3,508.4 702.3,508.8 703.3,509.2 704.3,509.5 705.3,509.8 706.3,510.0 707.3,510.2 708.3,510.4 709.3,510.6 710.3,510.8 711.3,510.9 712.3,511.1 713.3,511.2 714.3,511.3 715.3,511.4 716.3,511.5 717.3,511.6 718.3,511.6 719.3,511.6 720.3,511.7 721.3,511.7 722.3,511.7 723.3,511.7 724.3,511.7 725.3,511.8 726.3,511.8 727.3,511.8 728.3,511.8 729.3,511.8 730.3,511.8 731.3,511.7 732.3,511.6 733.3,511.5 734.3,511.4 735.3,511.2 736.3,511.0 737.3,510.9 738.3,510.7 739.3,510.6 740.3,510.5 741.3,510.4 742.3,510.3 743.3,510.2 744.3,510.2 745.3,510.1 746.3,510.1 747.3,510.0 748.3,509.9 749.3,509.9 750.3,509.8 751.3,509.8 752.3,509.7 753.3,509.6 754.3,509.6 755.3,509.5 756.3,509.4 757.3,509.3 758.3,509.2 759.3,509.2 760.3,509.1 761.3,509.0 762.3,508.9 763.3,508.9 764.3,508.8 765.3,508.7 766.3,508.6 767.3,508.5 768.3,508.4 769.3,508.3 770.3,508.1 771.3,508.0 772.3,507.9 773.3,507.7 774.3,507.5 775.3,507.3 776.3,507.1 777.3,506.7 778.3,506.3 779.3,505.7 780.3,505.1 781.3,504.3 782.3,503.5 783.3,502.6 784.3,501.5 785.3,500.1 786.3,498.7 787.3,497.1 788.3,495.4 789.3,493.6 790.3,491.8 791.3,489.8 792.3,487.8 793.3,485.8 794.3,483.8 795.3,481.8 796.3,479.8 797.3,477.7 798.3,475.8 799.3,474.0 800.3,472.5 801.3,471.3 802.3,470.3 803.3,469.4 804.3,468.8 805.3,468.4 806.3,468.3 807.3,468.6 808.3,469.3 809.3,470.2 810.3,471.3 811.3,472.7 812.3,474.4 813.3,476.5 814.3,478.9 815.3,481.2 816.3,483.4 817.3,485.4 818.3,487.2 819.3,488.8 820.3,490.3 821.3,491.6 822.3,492.7 823.3,493.6 824.3,494.4 825.3,495.0 826.3,495.5 827.3,496.0 828.3,496.4 829.3,496.8 830.3,497.0 831.3,497.3 832.3,497.5 833.3,497.7 834.3,497.9 835.3,498.0 836.3,498.2 837.3,498.3 838.3,498.4 839.3,498.5 840.3,498.7 841.3,498.8 842.3,498.9 843.3,499.1 844.3,499.2 845.3,499.4 846.3,499.5 847.3,499.7 848.3,499.9 849.3,500.1 850.3,500.3 851.3,500.5 852.3,500.7 853.3,500.9 854.3,501.1 855.3,501.3 856.3,501.5 857.3,501.7 858.3,501.9 859.3,502.0 860.3,502.2 861.3,502.3 862.3,502.4 863.3,502.4 864.3,502.5 865.3,502.5 866.3,502.5 867.3,502.4 868.3,502.4 869.3,502.3 870.3,502.2 871.3,502.2 872.3,502.1 873.3,501.9 874.3,501.8 875.3,501.7 876.3,501.6 877.3,501.4 878.3,501.3 879.3,501.1 880.3,500.9 881.3,500.7 882.3,500.5 883.3,500.2 884.3,499.9 885.3,499.6 886.3,499.3 887.3,499.0 888.3,498.6 889.3,498.3 890.3,498.0 891.3,497.7 892.3,497.4 893.3,497.1 894.3,496.7 895.3,496.3 896.3,495.7 897.3,495.0 898.3,494.2 899.3,493.2 900.3,492.2 901.3,491.2 902.3,490.3 903.3,489.5 904.3,488.6 905.3,487.6 906.3,486.2 907.3,484.2 908.3,481.3 909.3,476.7 910.3,469.5 911.3,459.7 912.3,448.5 913.3,436.8 914.3,424.7 915.3,412.1 916.3,399.2 917.3,386.0 918.3,373.0 919.3,360.4 920.3,348.6 921.3,338.0 922.3,328.7 923.3,320.7 924.3,314.2 925.3,309.0 926.3,305.2 927.3,302.7 928.3,301.3 929.3,301.0 930.3,302.1 931.3,304.6 932.3,308.9 933.3,315.5 934.3,324.8 935.3,337.2 936.3,353.0 937.3,371.0 938.3,388.4 939.3,402.4 940.3,412.9 941.3,421.1 942.3,428.7 943.3,436.3 944.3,444.1 945.3,451.7 946.3,458.6 947.3,464.5 948.3,469.5 949.3,473.7 950.3,477.1 951.3,479.7 952.3,481.7 953.3,483.2 954.3,484.5 955.3,485.4 956.3,486.0 957.3,486.5 958.3,486.8 959.3,487.1 960.3,487.4 961.3,487.6 962.3,487.8 963.3,487.9 964.3,488.0 965.3,488.0 966.3,488.0 967.3,487.9 968.3,487.9 969.3,487.8 970.3,487.7 971.3,487.7 972.3,487.6 973.3,487.5 974.3,487.3 975.3,487.2 976.3,487.1 977.3,487.0 978.3,486.9 979.3,486.7 980.3,486.6 981.3,486.4 982.3,486.3 983.3,486.1 984.3,485.9 985.3,485.7 986.3,485.5 987.3,485.3 988.3,485.1" stroke="#0000ff" stroke-width="5.2"/>
<path d="M109.3,503.5 110.3,503.6 111.3,503.7 112.3,503.8 113.3,503.9 114.3,504.0 115.3,504.0 116.3,504.1 117.3,504.2 118.3,504.3 119.3,504.4 120.3,504.5 121.3,504.6 122.3,504.7 123.3,504.8 124.3,504.9 125.3,505.0 126.3,505.1 127.3,505.2 128.3,505.3 129.3,505.5 130.3,505.6 131.3,505.7 132.3,505.8 133.3,505.9 134.3,506.1 135.3,506.2 136.3,506.4 137.3,506.6 138.3,506.8 139.3,507.0 140.3,507.2 141.3,507.4 142.3,507.5 143.3,507.7 144.3,507.8 145.3,507.9 146.3,508.0 147.3,508.0 148.3,508.0 149.3,508.0 150.3,507.9 151.3,507.9 152.3,507.9 153.3,507.8 154.3,507.8 155.3,507.7 156.3,507.7 157.3,507.6 158.3,507.5 159.3,507.4 160.3,507.3 161.3,507.2 162.3,507.0 163.3,506.8 164.3,506.6 165.3,506.2 166.3,505.9 167.3,505.5 168.3,505.1 169.3,504.6 170.3,504.1 171.3,503.6 172.3,503.0 173.3,502.3 174.3,501.4 175.3,500.4 176.3,499.2 177.3,497.9 178.3,496.5 179.3,494.8 180.3,492.7 181.3,490.3 182.3,487.4 183.3,484.1 184.3,480.7 185.3,477.0 186.3,473.1 187.3,468.9 188.3,464.5 189.3,459.8 190.3,454.8 191.3,449.4 192.3,443.6 193.3,437.4 194.3,430.8 195.3,423.9 196.3,416.8 197.3,409.6 198.3,402.4 199.3,395.1 200.3,388.0 201.3,381.3 202.3,375.6 203.3,371.3 204.3,368.2 205.3,366.2 206.3,365.4 207.3,365.9 208.3,367.7 209.3,370.6 210.3,374.4 211.3,379.2 212.3,384.9 213.3,391.0 214.3,397.2 215.3,403.2 216.3,409.1 217.3,414.9 218.3,420.6 219.3,426.2 220.3,431.6 221.3,436.7 222.3,441.5 223.3,445.8 224.3,449.7 225.3,453.2 226.3,456.4 227.3,459.3 228.3,462.0 229.3,464.5 230.3,466.7 231.3,468.5 232.3,470.0 233.3,471.2 234.3,472.1 235.3,472.9 236.3,473.6 237.3,474.0 238.3,474.2 239.3,474.2 240.3,474.0 241.3,473.7 242.3,473.2 243.3,472.7 244.3,472.2 245.3,471.5 246.3,470.7 247.3,469.9 248.3,468.9 249.3,467.9 250.3,466.8 251.3,465.7 252.3,464.6 253.3,463.3 254.3,462.1 255.3,460.7 256.3,459.4 257.3,458.0 258.3,456.5 259.3,455.1 260.3,453.7 261.3,452.2 262.3,450.7 263.3,449.2 264.3,447.7 265.3,446.1 266.3,444.6 267.3,443.0 268.3,441.5 269.3,440.0 270.3,438.5 271.3,437.0 272.3,435.5 273.3,434.0 274.3,432.6 275.3,431.1 276.3,429.6 277.3,428.1 278.3,426.5 279.3,425.0 280.3,423.5 281.3,422.0 282.3,420.6 283.3,419.3 284.3,418.0 285.3,416.7 286.3,415.4 287.3,414.1 288.3,412.7 289.3,411.2 290.3,409.6 291.3,407.8 292.3,405.7 293.3,403.3 294.3,400.7 295.3,398.0 296.3,395.0 297.3,392.0 298.3,388.7 299.3,385.1 300.3,381.2 301.3,376.7 302.3,371.6 303.3,365.8 304.3,359.3 305.3,352.1 306.3,344.3 307.3,336.1 308.3,327.9 309.3,320.1 310.3,312.6 311.3,305.2 312.3,298.0 313.3,290.8 314.3,283.8 315.3,276.6 316.3,269.1 317.3,261.5 318.3,254.1 319.3,247.8 320.3,242.9 321.3,239.5 322.3,237.7 323.3,237.5 324.3,239.1 325.3,242.5 326.3,247.9 327.3,255.2 328.3,265.0 329.3,278.4 330.3,294.9 331.3,311.8 332.3,326.3 333.3,338.5 334.3,349.4 335.3,359.5 336.3,369.0 337.3,378.4 338.3,388.4 339.3,399.2 340.3,410.4 341.3,421.4 342.3,431.6 343.3,440.9 344.3,449.5 345.3,457.4 346.3,464.5 347.3,470.5 348.3,475.4 349.3,479.3 350.3,482.5 351.3,485.3 352.3,488.0 353.3,490.7 354.3,493.3 355.3,495.7 356.3,497.9 357.3,499.7 358.3,501.1 359.3,502.3 360.3,503.3 361.3,504.1 362.3,504.9 363.3,505.5 364.3,506.2 365.3,506.8 366.3,507.4 367.3,507.9 368.3,508.5 369.3,509.1 370.3,509.6 371.3,510.1 372.3,510.6 373.3,511.0 374.3,511.4 375.3,511.8 376.3,512.1 377.3,512.4 378.3,512.7 379.3,512.9 380.3,513.2 381.3,513.4 382.3,513.7 383.3,513.9 384.3,514.1 385.3,514.3 386.3,514.5 387.3,514.7 388.3,514.8 389.3,514.9 390.3,515.0 391.3,515.1 392.3,515.2 393.3,515.2 394.3,515.3 395.3,515.3 396.3,515.3 397.3,515.4 398.3,515.4 399.3,515.4 400.3,515.5 401.3,515.5 402.3,515.5 403.3,515.5 404.3,515.6 405.3,515.6 406.3,515.6 407.3,515.6 408.3,515.6 409.3,515.6 410.3,515.6 411.3,515.6 412.3,515.5 413.3,515.5 414.3,515.4 415.3,515.4 416.3,515.3 417.3,515.2 418.3,515.1 419.3,515.0 420.3,514.9 421.3,514.8 422.3,514.6 423.3,514.5 424.3,514.4 425.3,514.2 426.3,514.1 427.3,513.9 428.3,513.7 429.3,513.5 430.3,513.3 431.3,513.1 432.3,513.0 433.3,512.8 434.3,512.7 435.3,512.6 436.3,512.5 437.3,512.4 438.3,512.4 439.3,512.3 440.3,512.4 441.3,512.5 442.3,512.6 443.3,512.8 444.3,513.0 445.3,513.2 446.3,513.4 447.3,513.6 448.3,513.8 449.3,514.0 450.3,514.2 451.3,514.4 452.3,514.6 453.3,514.8 454.3,514.9 455.3,515.0 456.3,515.1 457.3,515.2 458.3,515.3 459.3,515.3 460.3,515.4 461.3,515.5 462.3,515.5 463.3,515.6 464.3,515.7 465.3,515.7 466.3,515.7 467.3,515.8 468.3,515.8 469.3,515.8 470.3,515.7 471.3,515.7 472.3,515.5 473.3,515.3 474.3,515.0 475.3,514.6 476.3,514.2 477.3,513.8 478.3,513.4 479.3,512.9 480.3,512.4 481.3,512.0 482.3,511.5 483.3,511.1 484.3,510.7 485.3,510.3 486.3,509.9 487.3,509.5 488.3,509.1 489.3,508.6 490.3,508.2 491.3,507.8 492.3,507.3 493.3,506.9 494.3,506.5 495.3,506.1 496.3,505.7 497.3,505.3 498.3,505.0 499.3,504.7 500.3,504.4 501.3,504.2 502.3,503.9 503.3,503.7 504.3,503.6 505.3,503.4 506.3,503.2 507.3,502.9 508.3,502.7 509.3,502.4 510.3,502.0 511.3,501.5 512.3,500.8 513.3,500.1 514.3,499.2 515.3,498.3 516.3,497.3 517.3,496.3 518.3,495.2 519.3,494.0 520.3,492.6 521.3,490.9 522.3,489.1 523.3,487.2 524.3,485.0 525.3,482.8 526.3,480.5 527.3,478.1 528.3,475.6 529.3,472.9 530.3,469.9 531.3,466.8 532.3,463.7 533.3,460.8 534.3,458.4 535.3,456.3 536.3,454.8 537.3,453.5 538.3,452.6 539.3,452.0 540.3,451.7 541.3,451.8 542.3,452.4 543.3,453.2 544.3,454.4 545.3,455.9 546.3,457.7 547.3,460.0 548.3,462.8 549.3,466.0 550.3,469.5 551.3,473.0 552.3,476.4 553.3,479.5 554.3,482.4 555.3,485.2 556.3,487.8 557.3,490.3 558.3,492.7 559.3,494.8 560.3,496.6 561.3,498.1 562.3,499.3 563.3,500.3 564.3,501.2 565.3,502.0 566.3,502.8 567.3,503.4 568.3,503.9 569.3,504.4 570.3,504.8 571.3,505.1 572.3,505.3 573.3,505.6 574.3,505.8 575.3,506.0 576.3,506.2 577.3,506.4 578.3,506.6 579.3,506.7 580.3,506.8 581.3,506.9 582.3,507.0 583.3,507.0 584.3,507.0 585.3,506.9 586.3,506.9 587.3,506.8 588.3,506.7 589.3,506.6 590.3,506.5 591.3,506.4 592.3,506.2 593.3,506.0 594.3,505.9 595.3,505.7 596.3,505.4 597.3,505.1 598.3,504.8 599.3,504.3 600.3,503.7 601.3,503.1 602.3,502.4 603.3,501.8 604.3,501.2 605.3,500.6 606.3,499.9 607.3,499.2 608.3,498.6 609.3,497.9 610.3,497.3 611.3,496.6 612.3,496.0 613.3,495.4 614.3,494.9 615.3,494.4 616.3,493.9 617.3,493.4 618.3,492.9 619.3,492.4 620.3,491.9 621.3,491.5 622.3,491.1 623.3,490.7 624.3,490.4 625.3,490.2 626.3,489.9 627.3,489.8 628.3,489.7 629.3,489.5 630.3,489.5 631.3,489.4 632.3,489.3 633.3,489.3 634.3,489.2 635.3,489.3 636.3,489.4 637.3,489.6 638.3,489.9 639.3,490.3 640.3,490.7 641.3,491.2 642.3,491.7 643.3,492.2 644.3,492.9 645.3,493.6 646.3,494.4 647.3,495.3 648.3,496.1 649.3,496.9 650.3,497.6 651.3,498.2 652.3,498.8 653.3,499.3 654.3,499.9 655.3,500.4 656.3,500.8 657.3,501.2 658.3,501.5 659.3,501.8 660.3,502.0 661.3,502.2 662.3,502.3 663.3,502.4 664.3,502.5 665.3,502.6 666.3,502.7 667.3,502.8 668.3,502.9 669.3,503.0 670.3,503.0 671.3,503.1 672.3,503.2 673.3,503.3 674.3,503.3 675.3,503.4 676.3,503.5 677.3,503.6 678.3,503.7 679.3,503.8 680.3,503.9 681.3,504.0 682.3,504.1 683.3,504.2 684.3,504.3 685.3,504.5 686.3,504.6 687.3,504.7 688.3,504.8 689.3,504.9 690.3,505.1 691.3,505.2 692.3,505.4 693.3,505.5 694.3,505.7 695.3,505.9 696.3,506.1 697.3,506.4 698.3,506.7 699.3,507.1 700.3,507.5 701.3,507.9 702.3,508.3 703.3,508.7 704.3,509.0 705.3,509.3 706.3,509.5 707.3,509.7 708.3,509.9 709.3,510.1 710.3,510.3 711.3,510.4 712.3,510.6 713.3,510.7 714.3,510.8 715.3,510.9 716.3,510.9 717.3,511.0 718.3,511.0 719.3,511.0 720.3,511.0 721.3,511.0 722.3,511.0 723.3,511.0 724.3,511.0 725.3,511.0 726.3,511.0 727.3,511.0 728.3,511.0 729.3,511.0 730.3,511.0 731.3,510.9 732.3,510.9 733.3,510.7 734.3,510.6 735.3,510.4 736.3,510.1 737.3,509.9 738.3,509.8 739.3,509.6 740.3,509.5 741.3,509.4 742.3,509.3 743.3,509.3 744.3,509.2 745.3,509.1 746.3,509.1 747.3,509.0 748.3,509.0 749.3,508.9 750.3,508.9 751.3,508.8 752.3,508.8 753.3,508.7 754.3,508.6 755.3,508.5 756.3,508.4 757.3,508.3 758.3,508.1 759.3,507.9 760.3,507.7 761.3,507.4 762.3,507.2 763.3,506.9 764.3,506.6 765.3,506.4 766.3,506.1 767.3,505.8 768.3,505.5 769.3,505.2 770.3,504.9 771.3,504.6 772.3,504.3 773.3,504.0 774.3,503.7 775.3,503.3 776.3,502.8 777.3,502.3 778.3,501.7 779.3,501.0 780.3,500.3 781.3,499.5 782.3,498.7 783.3,497.8 784.3,496.8 785.3,495.8 786.3,494.7 787.3,493.4 788.3,492.1 789.3,490.7 790.3,489.2 791.3,487.6 792.3,486.0 793.3,484.4 794.3,482.8 795.3,481.1 796.3,479.3 797.3,477.5 798.3,475.8 799.3,474.2 800.3,472.9 801.3,471.9 802.3,471.1 803.3,470.5 804.3,470.1 805.3,470.0 806.3,470.1 807.3,470.7 808.3,471.5 809.3,472.5 810.3,473.8 811.3,475.3 812.3,477.0 813.3,479.0 814.3,481.0 815.3,482.9 816.3,484.7 817.3,486.2 818.3,487.5 819.3,488.8 820.3,489.9 821.3,490.9 822.3,491.8 823.3,492.6 824.3,493.3 825.3,493.9 826.3,494.5 827.3,495.0 828.3,495.4 829.3,495.8 830.3,496.0 831.3,496.3 832.3,496.5 833.3,496.6 834.3,496.8 835.3,496.9 836.3,497.1 837.3,497.2 838.3,497.3 839.3,497.4 840.3,497.5 841.3,497.6 842.3,497.7 843.3,497.8 844.3,497.9 845.3,498.0 846.3,498.2 847.3,498.3 848.3,498.4 849.3,498.6 850.3,498.7 851.3,498.9 852.3,499.0 853.3,499.2 854.3,499.3 855.3,499.4 856.3,499.6 857.3,499.7 858.3,499.8 859.3,499.9 860.3,500.0 861.3,500.1 862.3,500.1 863.3,500.2 864.3,500.2 865.3,500.2 866.3,500.2 867.3,500.1 868.3,500.0 869.3,499.9 870.3,499.8 871.3,499.7 872.3,499.5 873.3,499.4 874.3,499.2 875.3,499.0 876.3,498.8 877.3,498.5 878.3,498.3 879.3,498.1 880.3,497.9 881.3,497.6 882.3,497.3 883.3,497.0 884.3,496.6 885.3,496.2 886.3,495.8 887.3,495.3 888.3,494.8 889.3,494.3 890.3,493.8 891.3,493.4 892.3,492.9 893.3,492.4 894.3,491.8 895.3,491.3 896.3,490.8 897.3,490.2 898.3,489.6 899.3,489.0 900.3,488.3 901.3,487.5 902.3,486.7 903.3,485.9 904.3,485.0 905.3,483.9 906.3,482.5 907.3,480.7 908.3,477.8 909.3,473.2 910.3,466.5 911.3,458.0 912.3,448.1 913.3,437.1 914.3,425.1 915.3,412.4 916.3,399.3 917.3,386.0 918.3,373.0 919.3,360.4 920.3,348.7 921.3,337.9 922.3,328.5 923.3,320.3 924.3,313.5 925.3,308.1 926.3,304.1 927.3,301.4 928.3,300.0 929.3,299.7 930.3,300.8 931.3,303.4 932.3,307.9 933.3,314.7 934.3,324.3 935.3,337.0 936.3,353.0 937.3,371.0 938.3,388.4 939.3,402.4 940.3,412.7 941.3,420.8 942.3,428.2 943.3,435.8 944.3,443.5 945.3,451.0 946.3,457.7 947.3,463.3 948.3,467.9 949.3,471.7 950.3,474.8 951.3,477.2 952.3,479.2 953.3,480.7 954.3,482.0 955.3,482.9 956.3,483.5 957.3,484.0 958.3,484.3 959.3,484.6 960.3,484.9 961.3,485.1 962.3,485.3 963.3,485.4 964.3,485.5 965.3,485.5 966.3,485.5 967.3,485.4 968.3,485.4 969.3,485.3 970.3,485.2 971.3,485.2 972.3,485.1 973.3,485.0 974.3,484.8 975.3,484.7 976.3,484.6 977.3,484.5 978.3,484.4 979.3,484.2 980.3,484.1 981.3,483.9 982.3,483.8 983.3,483.6 984.3,483.4 985.3,483.2 986.3,483.0 987.3,482.8 988.3,482.6" stroke="#008000" stroke-width="5.2"/>
<path d="M109.3,501.1 110.3,501.0 111.3,500.9 112.3,500.9 113.3,500.8 114.3,500.8 115.3,500.9 116.3,501.1 117.3,501.4 118.3,501.7 119.3,502.1 120.3,502.4 121.3,502.8 122.3,503.3 123.3,503.8 124.3,504.3 125.3,504.8 126.3,505.4 127.3,505.9 128.3,506.4 129.3,506.9 130.3,507.5 131.3,508.0 132.3,508.6 133.3,509.1 134.3,509.6 135.3,510.1 136.3,510.5 137.3,510.9 138.3,511.3 139.3,511.7 140.3,512.0 141.3,512.4 142.3,512.7 143.3,513.0 144.3,513.3 145.3,513.5 146.3,513.7 147.3,513.8 148.3,513.9 149.3,514.1 150.3,514.2 151.3,514.2 152.3,514.3 153.3,514.4 154.3,514.5 155.3,514.6 156.3,514.6 157.3,514.6 158.3,514.7 159.3,514.7 160.3,514.7 161.3,514.7 162.3,514.7 163.3,514.7 164.3,514.7 165.3,514.7 166.3,514.7 167.3,514.7 168.3,514.7 169.3,514.6 170.3,514.6 171.3,514.6 172.3,514.6 173.3,514.6 174.3,514.6 175.3,514.6 176.3,514.6 177.3,514.5 178.3,514.5 179.3,514.5 180.3,514.5 181.3,514.4 182.3,514.4 183.3,514.4 184.3,514.3 185.3,514.3 186.3,514.2 187.3,514.1 188.3,514.1 189.3,514.0 190.3,513.9 191.3,513.8 192.3,513.7 193.3,513.6 194.3,513.5 195.3,513.4 196.3,513.3 197.3,513.2 198.3,513.1 199.3,512.9 200.3,512.8 201.3,512.6 202.3,512.5 203.3,512.3 204.3,512.1 205.3,511.8 206.3,511.5 207.3,511.2 208.3,510.8 209.3,510.3 210.3,509.6 211.3,508.7 212.3,507.6 213.3,506.4 214.3,505.1 215.3,503.9 216.3,502.5 217.3,501.1 218.3,499.5 219.3,497.6 220.3,495.6 221.3,493.3 222.3,490.7 223.3,488.0 224.3,484.9 225.3,481.7 226.3,478.4 227.3,475.0 228.3,471.6 229.3,468.2 230.3,464.7 231.3,461.0 232.3,457.3 233.3,453.5 234.3,449.9 235.3,446.4 236.3,443.1 237.3,439.8 238.3,436.6 239.3,433.3 240.3,429.9 241.3,426.5 242.3,423.1 243.3,419.6 244.3,416.2 245.3,412.8 246.3,409.4 247.3,406.2 248.3,403.1 249.3,400.3 250.3,397.5 251.3,394.9 252.3,392.5 253.3,390.1 254.3,387.8 255.3,385.7 256.3,383.6 257.3,381.5 258.3,379.4 259.3,377.2 260.3,375.1 261.3,373.1 262.3,371.3 263.3,369.7 264.3,368.0 265.3,366.3 266.3,364.4 267.3,362.3 268.3,360.0 269.3,357.3 270.3,354.2 271.3,350.6 272.3,346.6 273.3,342.3 274.3,337.4 275.3,331.5 276.3,324.4 277.3,315.6 278.3,304.9 279.3,292.7 280.3,279.5 281.3,266.1 282.3,252.6 283.3,238.8 284.3,224.7 285.3,210.0 286.3,194.4 287.3,178.0 288.3,160.9 289.3,143.8 290.3,127.1 291.3,111.4 292.3,96.5 293.3,82.5 294.3,69.2 295.3,57.1 296.3,46.8 297.3,38.8 298.3,33.7 299.3,31.6 300.3,33.0 301.3,37.6 302.3,45.3 303.3,55.4 304.3,67.3 305.3,79.7 306.3,92.5 307.3,106.5 308.3,123.0 309.3,142.8 310.3,165.6 311.3,189.8 312.3,214.2 313.3,238.7 314.3,263.2 315.3,287.9 316.3,311.0 317.3,330.3 318.3,345.4 319.3,358.3 320.3,371.1 321.3,384.4 322.3,397.8 323.3,410.4 324.3,421.5 325.3,430.8 326.3,438.9 327.3,446.2 328.3,453.2 329.3,459.6 330.3,465.5 331.3,470.7 332.3,475.0 333.3,478.7 334.3,481.8 335.3,484.6 336.3,486.9 337.3,489.0 338.3,490.8 339.3,492.5 340.3,494.0 341.3,495.4 342.3,496.6 343.3,497.8 344.3,498.9 345.3,499.9 346.3,500.8 347.3,501.7 348.3,502.5 349.3,503.3 350.3,504.0 351.3,504.6 352.3,505.1 353.3,505.5 354.3,505.8 355.3,506.1 356.3,506.3 357.3,506.5 358.3,506.7 359.3,506.9 360.3,507.0 361.3,507.2 362.3,507.3 363.3,507.4 364.3,507.6 365.3,507.7 366.3,507.8 367.3,507.9 368.3,507.9 369.3,508.0 370.3,508.1 371.3,508.1 372.3,508.2 373.3,508.3 374.3,508.3 375.3,508.3 376.3,508.4 377.3,508.4 378.3,508.5 379.3,508.5 380.3,508.6 381.3,508.6 382.3,508.7 383.3,508.7 384.3,508.8 385.3,508.9 386.3,509.0 387.3,509.1 388.3,509.2 389.3,509.4 390.3,509.5 391.3,509.6 392.3,509.8 393.3,509.9 394.3,509.9 395.3,510.0 396.3,510.0 397.3,510.0 398.3,510.0 399.3,509.9 400.3,509.9 401.3,509.9 402.3,509.8 403.3,509.8 404.3,509.7 405.3,509.7 406.3,509.6 407.3,509.5 408.3,509.5 409.3,509.4 410.3,509.4 411.3,509.3 412.3,509.2 413.3,509.1 414.3,509.0 415.3,508.9 416.3,508.8 417.3,508.7 418.3,508.6 419.3,508.4 420.3,508.3 421.3,508.1 422.3,508.0 423.3,507.7 424.3,507.5 425.3,507.1 426.3,506.8 427.3,506.4 428.3,505.9 429.3,505.5 430.3,505.1 431.3,504.6 432.3,504.2 433.3,503.7 434.3,503.2 435.3,502.7 436.3,502.3 437.3,502.0 438.3,501.7 439.3,501.4 440.3,501.3 441.3,501.1 442.3,501.1 443.3,501.2 444.3,501.4 445.3,501.7 446.3,502.0 447.3,502.5 448.3,502.9 449.3,503.4 450.3,504.0 451.3,504.5 452.3,505.0 453.3,505.4 454.3,505.9 455.3,506.3 456.3,506.7 457.3,507.1 458.3,507.4 459.3,507.6 460.3,507.8 461.3,508.0 462.3,508.2 463.3,508.3 464.3,508.3 465.3,508.3 466.3,508.1 467.3,507.9 468.3,507.5 469.3,507.2 470.3,506.8 471.3,506.3 472.3,505.9 473.3,505.3 474.3,504.8 475.3,504.1 476.3,503.4 477.3,502.6 478.3,501.7 479.3,500.7 480.3,499.7 481.3,498.6 482.3,497.5 483.3,496.4 484.3,495.3 485.3,494.2 486.3,493.2 487.3,492.2 488.3,491.2 489.3,490.1 490.3,489.1 491.3,488.1 492.3,487.1 493.3,486.0 494.3,484.9 495.3,483.8 496.3,482.7 497.3,481.6 498.3,480.4 499.3,479.2 500.3,478.0 501.3,476.8 502.3,475.6 503.3,474.3 504.3,473.0 505.3,471.7 506.3,470.3 507.3,468.8 508.3,467.1 509.3,465.2 510.3,463.2 511.3,460.9 512.3,458.4 513.3,455.8 514.3,453.1 515.3,450.4 516.3,447.6 517.3,444.8 518.3,441.9 519.3,438.9 520.3,435.8 521.3,432.7 522.3,429.5 523.3,426.4 524.3,423.4 525.3,420.5 526.3,417.9 527.3,415.4 528.3,413.1 529.3,410.8 530.3,408.7 531.3,406.8 532.3,405.2 533.3,403.9 534.3,402.9 535.3,402.0 536.3,401.2 537.3,400.7 538.3,400.3 539.3,400.2 540.3,400.4 541.3,400.9 542.3,401.6 543.3,402.5 544.3,403.6 545.3,404.8 546.3,406.2 547.3,407.9 548.3,410.0 549.3,412.5 550.3,415.2 551.3,418.0 552.3,420.9 553.3,423.8 554.3,426.6 555.3,429.3 556.3,432.1 557.3,434.9 558.3,437.7 559.3,440.6 560.3,443.4 561.3,446.2 562.3,448.9 563.3,451.6 564.3,454.3 565.3,457.0 566.3,459.7 567.3,462.4 568.3,465.0 569.3,467.5 570.3,469.8 571.3,472.0 572.3,474.0 573.3,475.9 574.3,477.6 575.3,479.4 576.3,481.0 577.3,482.6 578.3,484.1 579.3,485.5 580.3,486.8 581.3,488.1 582.3,489.2 583.3,490.2 584.3,491.2 585.3,492.1 586.3,493.0 587.3,493.8 588.3,494.6 589.3,495.3 590.3,496.0 591.3,496.6 592.3,497.2 593.3,497.8 594.3,498.2 595.3,498.7 596.3,499.1 597.3,499.5 598.3,499.9 599.3,500.2 600.3,500.6 601.3,500.9 602.3,501.1 603.3,501.4 604.3,501.6 605.3,501.8 606.3,501.9 607.3,502.1 608.3,502.2 609.3,502.2 610.3,502.3 611.3,502.3 612.3,502.3 613.3,502.2 614.3,502.2 615.3,502.1 616.3,502.0 617.3,502.0 618.3,501.9 619.3,501.8 620.3,501.7 621.3,501.7 622.3,501.7 623.3,501.6 624.3,501.6 625.3,501.7 626.3,501.8 627.3,502.0 628.3,502.2 629.3,502.4 630.3,502.7 631.3,503.0 632.3,503.4 633.3,503.7 634.3,504.0 635.3,504.3 636.3,504.5 637.3,504.8 638.3,505.0 639.3,505.2 640.3,505.5 641.3,505.7 642.3,505.9 643.3,506.1 644.3,506.3 645.3,506.4 646.3,506.5 647.3,506.6 648.3,506.6 649.3,506.6 650.3,506.6 651.3,506.5 652.3,506.5 653.3,506.4 654.3,506.4 655.3,506.3 656.3,506.3 657.3,506.2 658.3,506.1 659.3,506.1 660.3,506.0 661.3,505.9 662.3,505.8 663.3,505.7 664.3,505.6 665.3,505.5 666.3,505.4 667.3,505.2 668.3,505.1 669.3,504.9 670.3,504.8 671.3,504.6 672.3,504.5 673.3,504.3 674.3,504.2 675.3,504.1 676.3,504.0 677.3,503.8 678.3,503.7 679.3,503.6 680.3,503.5 681.3,503.4 682.3,503.3 683.3,503.2 684.3,503.0 685.3,502.9 686.3,502.8 687.3,502.7 688.3,502.6 689.3,502.6 690.3,502.5 691.3,502.4 692.3,502.3 693.3,502.2 694.3,502.2 695.3,502.1 696.3,502.1 697.3,502.1 698.3,502.2 699.3,502.5 700.3,503.0 701.3,503.6 702.3,504.3 703.3,505.0 704.3,505.6 705.3,506.1 706.3,506.5 707.3,506.8 708.3,507.2 709.3,507.5 710.3,507.7 711.3,507.9 712.3,508.0 713.3,508.1 714.3,508.2 715.3,508.2 716.3,508.3 717.3,508.3 718.3,508.4 719.3,508.4 720.3,508.4 721.3,508.5 722.3,508.5 723.3,508.5 724.3,508.5 725.3,508.5 726.3,508.5 727.3,508.5 728.3,508.5 729.3,508.4 730.3,508.4 731.3,508.4 732.3,508.3 733.3,508.3 734.3,508.3 735.3,508.2 736.3,508.2 737.3,508.1 738.3,508.1 739.3,508.0 740.3,508.0 741.3,507.9 742.3,507.9 743.3,507.8 744.3,507.7 745.3,507.6 746.3,507.5 747.3,507.4 748.3,507.2 749.3,507.1 750.3,506.9 751.3,506.7 752.3,506.5 753.3,506.3 754.3,506.0 755.3,505.7 756.3,505.3 757.3,504.9 758.3,504.5 759.3,504.0 760.3,503.4 761.3,502.8 762.3,502.1 763.3,501.3 764.3,500.4 765.3,499.5 766.3,498.6 767.3,497.6 768.3,496.7 769.3,495.6 770.3,494.5 771.3,493.4 772.3,492.2 773.3,491.1 774.3,490.0 775.3,489.0 776.3,488.1 777.3,487.3 778.3,486.5 779.3,485.9 780.3,485.5 781.3,485.1 782.3,485.0 783.3,485.0 784.3,485.1 785.3,485.4 786.3,485.9 787.3,486.4 788.3,486.9 789.3,487.7 790.3,488.5 791.3,489.5 792.3,490.6 793.3,491.6 794.3,492.6 795.3,493.5 796.3,494.3 797.3,495.1 798.3,495.9 799.3,496.5 800.3,497.1 801.3,497.5 802.3,497.7 803.3,497.8 804.3,497.8 805.3,497.8 806.3,497.8 807.3,497.8 808.3,497.8 809.3,497.8 810.3,497.8 811.3,497.8 812.3,497.8 813.3,497.8 814.3,497.8 815.3,497.8 816.3,497.8 817.3,497.8 818.3,497.7 819.3,497.7 820.3,497.6 821.3,497.6 822.3,497.5 823.3,497.5 824.3,497.4 825.3,497.3 826.3,497.3 827.3,497.2 828.3,497.2 829.3,497.2 830.3,497.1 831.3,497.1 832.3,497.0 833.3,497.0 834.3,496.9 835.3,496.9 836.3,496.8 837.3,496.8 838.3,496.7 839.3,496.7 840.3,496.6 841.3,496.6 842.3,496.5 843.3,496.4 844.3,496.4 845.3,496.3 846.3,496.2 847.3,496.1 848.3,495.9 849.3,495.8 850.3,495.6 851.3,495.5 852.3,495.3 853.3,495.1 854.3,494.9 855.3,494.7 856.3,494.4 857.3,494.2 858.3,493.8 859.3,493.4 860.3,493.0 861.3,492.6 862.3,492.2 863.3,491.8 864.3,491.6 865.3,491.4 866.3,491.3 867.3,491.2 868.3,491.1 869.3,491.0 870.3,490.8 871.3,490.7 872.3,490.6 873.3,490.4 874.3,490.1 875.3,489.8 876.3,489.5 877.3,489.1 878.3,488.7 879.3,488.2 880.3,487.7 881.3,487.2 882.3,486.7 883.3,486.2 884.3,485.7 885.3,485.2 886.3,484.6 887.3,484.0 888.3,483.3 889.3,482.7 890.3,482.2 891.3,481.6 892.3,481.1 893.3,480.6 894.3,480.0 895.3,479.5 896.3,479.0 897.3,478.4 898.3,477.8 899.3,477.2 900.3,476.7 901.3,476.1 902.3,475.4 903.3,474.7 904.3,473.9 905.3,473.0 906.3,471.9 907.3,470.5 908.3,468.6 909.3,466.4 910.3,463.7 911.3,460.4 912.3,456.4 913.3,451.4 914.3,445.1 915.3,437.3 916.3,428.0 917.3,417.5 918.3,406.3 919.3,394.9 920.3,383.3 921.3,372.0 922.3,361.2 923.3,351.2 924.3,342.2 925.3,334.4 926.3,328.1 927.3,323.5 928.3,320.4 929.3,318.4 930.3,317.6 931.3,318.1 932.3,319.9 933.3,323.2 934.3,328.8 935.3,337.8 936.3,351.2 937.3,368.5 938.3,386.6 939.3,401.6 940.3,412.2 941.3,420.2 942.3,427.4 943.3,434.7 944.3,442.4 945.3,449.8 946.3,456.5 947.3,462.0 948.3,466.4 949.3,470.1 950.3,473.0 951.3,475.2 952.3,477.0 953.3,478.4 954.3,479.6 955.3,480.4 956.3,481.0 957.3,481.5 958.3,481.8 959.3,482.1 960.3,482.4 961.3,482.6 962.3,482.8 963.3,482.9 964.3,483.0 965.3,483.0 966.3,483.0 967.3,482.9 968.3,482.9 969.3,482.8 970.3,482.7 971.3,482.7 972.3,482.6 973.3,482.5 974.3,482.3 975.3,482.2 976.3,482.1 977.3,482.0 978.3,481.9 979.3,481.7 980.3,481.6 981.3,481.4 982.3,481.3 983.3,481.1 984.3,480.9 985.3,480.7 986.3,480.5 987.3,480.3 988.3,480.1" stroke="#ff0000" stroke-width="5.2"/>
<path d="M109.3,504.4 110.3,504.5 111.3,504.6 112.3,504.8 113.3,505.0 114.3,505.2 115.3,505.4 116.3,505.5 117.3,505.7 118.3,505.9 119.3,506.1 120.3,506.3 121.3,506.5 122.3,506.7 123.3,506.9 124.3,507.1 125.3,507.3 126.3,507.5 127.3,507.8 128.3,508.0 129.3,508.3 130.3,508.5 131.3,508.8 132.3,509.1 133.3,509.4 134.3,509.8 135.3,510.1 136.3,510.4 137.3,510.7 138.3,511.0 139.3,511.3 140.3,511.6 141.3,511.8 142.3,512.1 143.3,512.2 144.3,512.4 145.3,512.5 146.3,512.6 147.3,512.6 148.3,512.6 149.3,512.6 150.3,512.6 151.3,512.6 152.3,512.6 153.3,512.6 154.3,512.6 155.3,512.6 156.3,512.6 157.3,512.6 158.3,512.6 159.3,512.6 160.3,512.6 161.3,512.6 162.3,512.6 163.3,512.6 164.3,512.6 165.3,512.5 166.3,512.4 167.3,512.2 168.3,512.0 169.3,511.7 170.3,511.4 171.3,511.0 172.3,510.6 173.3,510.2 174.3,509.7 175.3,509.1 176.3,508.4 177.3,507.5 178.3,506.2 179.3,504.7 180.3,503.0 181.3,501.2 182.3,499.4 183.3,497.4 184.3,495.3 185.3,493.0 186.3,490.6 187.3,488.1 188.3,485.5 189.3,482.7 190.3,479.7 191.3,476.6 192.3,473.3 193.3,469.8 194.3,466.3 195.3,462.5 196.3,458.7 197.3,454.8 198.3,450.8 199.3,446.8 200.3,442.9 201.3,439.2 202.3,436.2 203.3,434.0 204.3,432.4 205.3,431.6 206.3,431.3 207.3,431.7 208.3,432.7 209.3,434.5 210.3,436.9 211.3,440.0 212.3,443.1 213.3,446.1 214.3,448.8 215.3,451.4 216.3,453.9 217.3,456.2 218.3,458.3 219.3,460.3 220.3,462.1 221.3,463.8 222.3,465.3 223.3,466.5 224.3,467.6 225.3,468.6 226.3,469.3 227.3,469.6 228.3,469.6 229.3,469.4 230.3,468.9 231.3,468.4 232.3,467.7 233.3,466.8 234.3,465.7 235.3,464.4 236.3,463.0 237.3,461.3 238.3,459.4 239.3,457.4 240.3,455.2 241.3,453.0 242.3,451.0 243.3,449.0 244.3,447.2 245.3,445.5 246.3,443.9 247.3,442.2 248.3,440.6 249.3,439.0 250.3,437.4 251.3,435.8 252.3,434.1 253.3,432.4 254.3,430.7 255.3,429.0 256.3,427.3 257.3,425.7 258.3,424.1 259.3,422.6 260.3,421.2 261.3,419.8 262.3,418.5 263.3,417.1 264.3,415.8 265.3,414.5 266.3,413.1 267.3,411.6 268.3,410.0 269.3,408.3 270.3,406.4 271.3,404.3 272.3,401.9 273.3,399.2 274.3,396.2 275.3,392.8 276.3,389.0 277.3,385.0 278.3,380.7 279.3,376.3 280.3,371.5 281.3,366.0 282.3,359.9 283.3,353.1 284.3,345.6 285.3,337.2 286.3,327.5 287.3,316.5 288.3,305.0 289.3,294.3 290.3,285.1 291.3,277.2 292.3,270.1 293.3,263.3 294.3,257.1 295.3,251.4 296.3,246.3 297.3,242.1 298.3,238.7 299.3,236.3 300.3,234.8 301.3,234.1 302.3,234.3 303.3,235.5 304.3,237.8 305.3,241.2 306.3,245.3 307.3,249.7 308.3,254.2 309.3,258.6 310.3,263.0 311.3,267.7 312.3,272.7 313.3,277.8 314.3,282.8 315.3,287.7 316.3,292.3 317.3,296.8 318.3,301.3 319.3,305.6 320.3,309.8 321.3,314.0 322.3,318.1 323.3,322.1 324.3,326.4 325.3,331.4 326.3,337.4 327.3,344.5 328.3,352.4 329.3,360.9 330.3,369.9 331.3,379.0 332.3,388.1 333.3,397.0 334.3,405.6 335.3,414.1 336.3,422.6 337.3,430.9 338.3,439.1 339.3,446.9 340.3,454.1 341.3,460.7 342.3,466.9 343.3,472.5 344.3,477.3 345.3,481.4 346.3,484.8 347.3,487.7 348.3,490.4 349.3,492.9 350.3,495.2 351.3,497.3 352.3,499.2 353.3,500.7 354.3,501.9 355.3,502.9 356.3,503.8 357.3,504.7 358.3,505.5 359.3,506.2 360.3,506.8 361.3,507.4 362.3,507.9 363.3,508.3 364.3,508.7 365.3,509.1 366.3,509.4 367.3,509.7 368.3,510.0 369.3,510.3 370.3,510.5 371.3,510.8 372.3,511.0 373.3,511.2 374.3,511.4 375.3,511.6 376.3,511.8 377.3,512.0 378.3,512.2 379.3,512.3 380.3,512.5 381.3,512.7 382.3,512.9 383.3,513.0 384.3,513.2 385.3,513.3 386.3,513.5 387.3,513.6 388.3,513.7 389.3,513.9 390.3,514.0 391.3,514.1 392.3,514.2 393.3,514.3 394.3,514.4 395.3,514.4 396.3,514.5 397.3,514.6 398.3,514.7 399.3,514.8 400.3,514.8 401.3,514.9 402.3,514.9 403.3,515.0 404.3,515.0 405.3,515.0 406.3,515.0 407.3,514.9 408.3,514.8 409.3,514.7 410.3,514.6 411.3,514.5 412.3,514.3 413.3,514.1 414.3,513.9 415.3,513.7 416.3,513.5 417.3,513.3 418.3,513.1 419.3,512.9 420.3,512.6 421.3,512.4 422.3,512.2 423.3,512.0 424.3,511.8 425.3,511.6 426.3,511.3 427.3,511.1 428.3,510.8 429.3,510.6 430.3,510.4 431.3,510.1 432.3,510.0 433.3,509.8 434.3,509.6 435.3,509.4 436.3,509.3 437.3,509.2 438.3,509.1 439.3,509.0 440.3,509.1 441.3,509.1 442.3,509.2 443.3,509.3 444.3,509.5 445.3,509.7 446.3,509.8 447.3,510.0 448.3,510.2 449.3,510.4 450.3,510.6 451.3,510.9 452.3,511.2 453.3,511.4 454.3,511.7 455.3,512.0 456.3,512.2 457.3,512.4 458.3,512.6 459.3,512.6 460.3,512.7 461.3,512.7 462.3,512.6 463.3,512.6 464.3,512.5 465.3,512.4 466.3,512.4 467.3,512.3 468.3,512.2 469.3,512.0 470.3,511.9 471.3,511.8 472.3,511.6 473.3,511.3 474.3,511.0 475.3,510.7 476.3,510.3 477.3,509.9 478.3,509.4 479.3,508.9 480.3,508.4 481.3,507.9 482.3,507.3 483.3,506.7 484.3,506.0 485.3,505.2 486.3,504.4 487.3,503.6 488.3,502.8 489.3,502.0 490.3,501.1 491.3,500.3 492.3,499.5 493.3,498.6 494.3,497.8 495.3,497.0 496.3,496.1 497.3,495.3 498.3,494.5 499.3,493.8 500.3,493.1 501.3,492.4 502.3,491.7 503.3,491.1 504.3,490.5 505.3,489.8 506.3,489.1 507.3,488.4 508.3,487.5 509.3,486.5 510.3,485.4 511.3,484.2 512.3,482.8 513.3,481.3 514.3,479.7 515.3,478.1 516.3,476.3 517.3,474.5 518.3,472.5 519.3,470.3 520.3,467.9 521.3,465.3 522.3,462.6 523.3,459.9 524.3,457.2 525.3,454.5 526.3,451.8 527.3,449.2 528.3,446.4 529.3,443.7 530.3,441.0 531.3,438.6 532.3,436.6 533.3,435.0 534.3,433.8 535.3,432.9 536.3,432.1 537.3,431.5 538.3,431.1 539.3,431.0 540.3,431.2 541.3,431.7 542.3,432.5 543.3,433.4 544.3,434.5 545.3,435.7 546.3,437.2 547.3,439.0 548.3,441.3 549.3,443.9 550.3,446.7 551.3,449.7 552.3,452.7 553.3,455.6 554.3,458.3 555.3,461.0 556.3,463.7 557.3,466.4 558.3,469.0 559.3,471.6 560.3,474.1 561.3,476.5 562.3,478.7 563.3,480.8 564.3,482.8 565.3,484.8 566.3,486.6 567.3,488.4 568.3,490.1 569.3,491.6 570.3,493.0 571.3,494.2 572.3,495.2 573.3,496.2 574.3,497.1 575.3,497.9 576.3,498.7 577.3,499.5 578.3,500.2 579.3,500.8 580.3,501.3 581.3,501.8 582.3,502.1 583.3,502.4 584.3,502.6 585.3,502.8 586.3,503.0 587.3,503.2 588.3,503.3 589.3,503.4 590.3,503.6 591.3,503.7 592.3,503.8 593.3,503.9 594.3,503.9 595.3,504.0 596.3,504.0 597.3,503.9 598.3,503.9 599.3,503.7 600.3,503.5 601.3,503.3 602.3,503.1 603.3,502.8 604.3,502.6 605.3,502.4 606.3,502.2 607.3,502.0 608.3,501.7 609.3,501.5 610.3,501.3 611.3,501.0 612.3,500.8 613.3,500.5 614.3,500.2 615.3,499.9 616.3,499.5 617.3,499.1 618.3,498.7 619.3,498.3 620.3,497.9 621.3,497.5 622.3,497.2 623.3,496.9 624.3,496.7 625.3,496.5 626.3,496.3 627.3,496.2 628.3,496.1 629.3,496.1 630.3,496.1 631.3,496.3 632.3,496.4 633.3,496.7 634.3,496.9 635.3,497.2 636.3,497.5 637.3,497.9 638.3,498.2 639.3,498.7 640.3,499.1 641.3,499.6 642.3,500.1 643.3,500.6 644.3,501.0 645.3,501.3 646.3,501.7 647.3,501.9 648.3,502.2 649.3,502.4 650.3,502.6 651.3,502.9 652.3,503.1 653.3,503.3 654.3,503.4 655.3,503.6 656.3,503.7 657.3,503.8 658.3,503.9 659.3,504.0 660.3,504.0 661.3,504.0 662.3,503.9 663.3,503.9 664.3,503.8 665.3,503.8 666.3,503.7 667.3,503.6 668.3,503.5 669.3,503.4 670.3,503.3 671.3,503.2 672.3,503.1 673.3,503.1 674.3,503.0 675.3,503.0 676.3,503.0 677.3,503.0 678.3,503.0 679.3,503.0 680.3,503.1 681.3,503.1 682.3,503.1 683.3,503.1 684.3,503.2 685.3,503.2 686.3,503.3 687.3,503.3 688.3,503.4 689.3,503.5 690.3,503.6 691.3,503.7 692.3,503.8 693.3,504.1 694.3,504.3 695.3,504.5 696.3,504.8 697.3,505.1 698.3,505.5 699.3,505.8 700.3,506.2 701.3,506.6 702.3,507.0 703.3,507.4 704.3,507.7 705.3,507.9 706.3,508.1 707.3,508.3 708.3,508.4 709.3,508.6 710.3,508.7 711.3,508.8 712.3,509.0 713.3,509.1 714.3,509.2 715.3,509.2 716.3,509.3 717.3,509.4 718.3,509.4 719.3,509.4 720.3,509.5 721.3,509.5 722.3,509.6 723.3,509.6 724.3,509.6 725.3,509.6 726.3,509.7 727.3,509.7 728.3,509.7 729.3,509.7 730.3,509.7 731.3,509.6 732.3,509.5 733.3,509.4 734.3,509.1 735.3,508.9 736.3,508.7 737.3,508.4 738.3,508.3 739.3,508.1 740.3,508.0 741.3,507.9 742.3,507.9 743.3,507.9 744.3,507.8 745.3,507.8 746.3,507.8 747.3,507.8 748.3,507.7 749.3,507.7 750.3,507.7 751.3,507.7 752.3,507.6 753.3,507.6 754.3,507.6 755.3,507.5 756.3,507.4 757.3,507.2 758.3,507.0 759.3,506.7 760.3,506.4 761.3,506.0 762.3,505.6 763.3,505.1 764.3,504.6 765.3,504.1 766.3,503.6 767.3,503.1 768.3,502.5 769.3,501.9 770.3,501.3 771.3,500.5 772.3,499.8 773.3,499.0 774.3,498.2 775.3,497.4 776.3,496.6 777.3,495.8 778.3,495.1 779.3,494.4 780.3,493.8 781.3,493.2 782.3,492.6 783.3,492.1 784.3,491.5 785.3,491.0 786.3,490.5 787.3,489.9 788.3,489.4 789.3,488.8 790.3,488.3 791.3,487.6 792.3,487.0 793.3,486.3 794.3,485.6 795.3,485.0 796.3,484.4 797.3,483.9 798.3,483.5 799.3,483.2 800.3,482.9 801.3,482.7 802.3,482.6 803.3,482.6 804.3,482.8 805.3,483.0 806.3,483.3 807.3,483.7 808.3,484.2 809.3,484.8 810.3,485.4 811.3,486.2 812.3,487.1 813.3,488.1 814.3,489.1 815.3,490.1 816.3,491.0 817.3,491.8 818.3,492.4 819.3,492.8 820.3,493.2 821.3,493.6 822.3,493.9 823.3,494.2 824.3,494.4 825.3,494.6 826.3,494.7 827.3,494.8 828.3,494.9 829.3,495.0 830.3,495.0 831.3,495.1 832.3,495.1 833.3,495.2 834.3,495.2 835.3,495.2 836.3,495.3 837.3,495.3 838.3,495.4 839.3,495.4 840.3,495.4 841.3,495.5 842.3,495.5 843.3,495.6 844.3,495.7 845.3,495.7 846.3,495.8 847.3,495.9 848.3,495.9 849.3,496.0 850.3,496.1 851.3,496.1 852.3,496.2 853.3,496.2 854.3,496.2 855.3,496.3 856.3,496.3 857.3,496.3 858.3,496.3 859.3,496.2 860.3,496.2 861.3,496.1 862.3,496.0 863.3,495.9 864.3,495.7 865.3,495.6 866.3,495.4 867.3,495.2 868.3,495.0 869.3,494.8 870.3,494.6 871.3,494.3 872.3,494.1 873.3,493.8 874.3,493.5 875.3,493.0 876.3,492.6 877.3,492.1 878.3,491.6 879.3,491.1 880.3,490.7 881.3,490.3 882.3,490.0 883.3,489.6 884.3,489.3 885.3,489.0 886.3,488.7 887.3,488.3 888.3,488.0 889.3,487.6 890.3,487.2 891.3,486.8 892.3,486.3 893.3,485.8 894.3,485.2 895.3,484.6 896.3,484.0 897.3,483.3 898.3,482.5 899.3,481.7 900.3,480.9 901.3,479.9 902.3,479.0 903.3,477.9 904.3,476.8 905.3,475.5 906.3,474.0 907.3,472.0 908.3,469.4 909.3,465.5 910.3,460.4 911.3,454.1 912.3,446.9 913.3,439.2 914.3,430.7 915.3,421.4 916.3,411.4 917.3,400.6 918.3,389.2 919.3,377.5 920.3,366.0 921.3,354.9 922.3,344.8 923.3,335.8 924.3,327.9 925.3,321.4 926.3,316.1 927.3,312.1 928.3,309.4 929.3,308.0 930.3,307.7 931.3,308.9 932.3,311.7 933.3,316.6 934.3,324.3 935.3,335.3 936.3,350.3 937.3,368.4 938.3,386.8 939.3,401.7 940.3,412.3 941.3,420.2 942.3,427.4 943.3,434.7 944.3,442.4 945.3,449.8 946.3,456.5 947.3,462.0 948.3,466.4 949.3,470.1 950.3,473.0 951.3,475.2 952.3,477.0 953.3,478.4 954.3,479.6 955.3,480.4 956.3,481.0 957.3,481.5 958.3,481.8 959.3,482.1 960.3,482.4 961.3,482.6 962.3,482.8 963.3,482.9 964.3,483.0 965.3,483.0 966.3,483.0 967.3,482.9 968.3,482.9 969.3,482.8 970.3,482.7 971.3,482.7 972.3,482.6 973.3,482.5 974.3,482.3 975.3,482.2 976.3,482.1 977.3,482.0 978.3,481.9 979.3,481.7 980.3,481.6 981.3,481.4 982.3,481.3 983.3,481.1 984.3,480.9 985.3,480.7 986.3,480.5 987.3,480.3 988.3,480.1" stroke="#ffa500" stroke-width="5.2"/>
</g>
<g class="ax"><line x1="111.8" y1="523.5" x2="111.8" y2="532.2"/><line x1="210.1" y1="523.5" x2="210.1" y2="532.2"/><line x1="305.8" y1="523.5" x2="305.8" y2="532.2"/><line x1="404.3" y1="523.5" x2="404.3" y2="532.2"/><line x1="500.2" y1="523.5" x2="500.2" y2="532.2"/><line x1="598.5" y1="523.5" x2="598.5" y2="532.2"/><line x1="694.3" y1="523.5" x2="694.3" y2="532.2"/><line x1="792.7" y1="523.5" x2="792.7" y2="532.2"/><line x1="888.6" y1="523.5" x2="888.6" y2="532.2"/><line x1="986.7" y1="523.5" x2="986.7" y2="532.2"/><line x1="95.8" y1="516.4" x2="104.7" y2="516.4"/><line x1="95.8" y1="420.4" x2="104.7" y2="420.4"/><line x1="95.8" y1="322.3" x2="104.7" y2="322.3"/><line x1="95.8" y1="226.4" x2="104.7" y2="226.4"/><line x1="95.8" y1="130.5" x2="104.7" y2="130.5"/><line x1="95.8" y1="32.2" x2="104.7" y2="32.2"/><line x1="95.8" y1="22.9" x2="104.7" y2="22.9"/></g>
<g class="tk"><text x="96.02" y="560.1" font-size="34.3" textLength="45.91" lengthAdjust="spacingAndGlyphs">750</text><text x="195.44" y="560.1" font-size="34.3" textLength="44.46" lengthAdjust="spacingAndGlyphs">800</text><text x="291.44" y="560.1" font-size="34.3" textLength="44.46" lengthAdjust="spacingAndGlyphs">850</text><text x="388.72" y="560.1" font-size="34.3" textLength="45.29" lengthAdjust="spacingAndGlyphs">900</text><text x="485.43" y="560.1" font-size="34.3" textLength="44.56" lengthAdjust="spacingAndGlyphs">950</text><text x="572.55" y="560.1" font-size="34.3" textLength="58.22" lengthAdjust="spacingAndGlyphs">1000</text><text x="668.14" y="560.1" font-size="34.3" textLength="58.65" lengthAdjust="spacingAndGlyphs">1050</text><text x="765.78" y="560.1" font-size="34.3" textLength="58.72" lengthAdjust="spacingAndGlyphs">1100</text><text x="862.55" y="560.1" font-size="34.3" textLength="57.23" lengthAdjust="spacingAndGlyphs">1150</text><text x="961.51" y="560.1" font-size="34.3" textLength="56.94" lengthAdjust="spacingAndGlyphs">1200</text><text x="56.58" y="31.1" font-size="34.3" textLength="34.95" lengthAdjust="spacingAndGlyphs">2.5</text><text x="56.45" y="138.7" font-size="34.3" textLength="36.43" lengthAdjust="spacingAndGlyphs">2.0</text><text x="58.30" y="234.5" font-size="34.3" textLength="34.32" lengthAdjust="spacingAndGlyphs">1.5</text><text x="58.28" y="330.4" font-size="34.3" textLength="34.54" lengthAdjust="spacingAndGlyphs">1.0</text><text x="56.56" y="428.5" font-size="34.3" textLength="36.21" lengthAdjust="spacingAndGlyphs">0.5</text><text x="56.45" y="524.6" font-size="34.3" textLength="36.43" lengthAdjust="spacingAndGlyphs">0.0</text></g>
<text x="414.50" y="601.5" font-size="42.7" textLength="96.67" lengthAdjust="spacingAndGlyphs">Raman</text><text x="521.42" y="601.5" font-size="42.7" textLength="65.77" lengthAdjust="spacingAndGlyphs">Shift</text><text x="596.90" y="601.5" font-size="42.7" textLength="90.56" lengthAdjust="spacingAndGlyphs">(1/cm)</text>
<text transform="translate(36.3,457.5) rotate(-90)" x="-0.75" y="0" font-size="43.6" textLength="92.40" lengthAdjust="spacingAndGlyphs">Raman</text><text transform="translate(36.3,354.6) rotate(-90)" x="-0.76" y="0" font-size="43.6" textLength="115.80" lengthAdjust="spacingAndGlyphs">Intensity</text><text transform="translate(36.3,229.2) rotate(-90)" x="-0.78" y="0" font-size="43.6" textLength="176.27" lengthAdjust="spacingAndGlyphs">(normalized)</text>
<!-- arrows -->
<g stroke="#000" stroke-width="2.6" fill="none">
<line x1="343" y1="64.4" x2="425.5" y2="64.4"/>
<line x1="320" y1="431.9" x2="424.6" y2="341.8"/>
</g>
<path d="M334.3,64.4 L361,51.5 L350.5,64.4 L361,77.5 Z" fill="#000"/>
<path d="M309.3,441.3 L318.9,416.2 L326.2,431.2 L336.8,435.2 Z" fill="#000"/>
<text class="lab" x="444.8" y="74.6" textLength="297.3" lengthAdjust="spacingAndGlyphs" style="fill:#ff0000;stroke:#ff0000">100% <tspan font-style="italic">p</tspan>-aminophenol</text>
<text class="lab" x="454.8" y="344.2" textLength="265.6" lengthAdjust="spacingAndGlyphs" style="fill:#000;font-size:32px">2% <tspan font-style="italic">p</tspan>-aminophenol</text>
</g>
</svg>
</body></html>
